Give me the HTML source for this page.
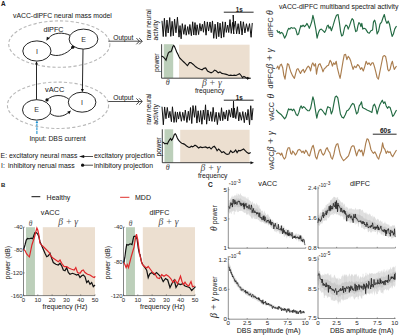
<!DOCTYPE html>
<html><head><meta charset="utf-8"><style>
html,body{margin:0;padding:0;background:#fff;}
svg{display:block;}
text{stroke:#222;stroke-width:0.04px;}
</style></head><body>
<svg width="400" height="336" viewBox="0 0 400 336" font-family='"Liberation Sans", sans-serif' fill="#1a1a1a">
<rect width="400" height="336" fill="#fff"/>
<text x="0.9" y="6.0" font-size="6.4" text-anchor="start" font-weight="bold">A</text>
<text x="13" y="17.6" font-size="6.85" text-anchor="start" >vACC-dlPFC neural mass model</text>
<ellipse cx="59.3" cy="44.1" rx="50.6" ry="23.2" fill="none" stroke="#b8b8b8" stroke-width="1.1" stroke-dasharray="3.2,2.1"/>
<ellipse cx="58" cy="105.3" rx="50.6" ry="23.2" fill="none" stroke="#b8b8b8" stroke-width="1.1" stroke-dasharray="3.2,2.1"/>
<ellipse cx="36.9" cy="51.0" rx="14.1" ry="10.1" fill="#fff" stroke="#1a1a1a" stroke-width="0.95"/>
<text x="36.9" y="53.5" font-size="7" text-anchor="middle" fill="#333">I</text>
<ellipse cx="83.5" cy="39.1" rx="14.4" ry="10.0" fill="#fff" stroke="#1a1a1a" stroke-width="0.95"/>
<text x="83.5" y="41.6" font-size="7" text-anchor="middle" fill="#333">E</text>
<ellipse cx="36.7" cy="109.9" rx="14.2" ry="10.2" fill="#fff" stroke="#1a1a1a" stroke-width="0.95"/>
<text x="36.7" y="112.4" font-size="7" text-anchor="middle" fill="#333">E</text>
<ellipse cx="82.1" cy="102.2" rx="13.8" ry="10.0" fill="#fff" stroke="#1a1a1a" stroke-width="0.95"/>
<text x="82.1" y="104.7" font-size="7" text-anchor="middle" fill="#333">I</text>
<text x="43.5" y="31.6" font-size="7.2" text-anchor="start" >dlPFC</text>
<text x="45" y="92" font-size="7.4" text-anchor="start" >vACC</text>
<path d="M70,35.3 C63,32 53,32.2 48.3,38.5" stroke="#1a1a1a" stroke-width="0.95" fill="none"/>
<polygon points="46.40,40.80 46.83,36.66 49.77,38.36" fill="#111"/>
<path d="M50.5,54.2 C57,57.2 66,55 72.8,47.2" stroke="#1a1a1a" stroke-width="0.95" fill="none"/>
<circle cx="72.8" cy="47.2" r="1.6" fill="#111"/>
<path d="M68.6,99 C63,94.5 53,94 47.2,99.8" stroke="#1a1a1a" stroke-width="0.95" fill="none"/>
<circle cx="47.0" cy="99.9" r="1.6" fill="#111"/>
<path d="M50.2,113.5 C55,117.5 64,117.5 69.5,111.5" stroke="#1a1a1a" stroke-width="0.95" fill="none"/>
<polygon points="71.00,110.60 69.27,114.14 67.21,111.69" fill="#111"/>
<line x1="83" y1="49.1" x2="82.4" y2="90" stroke="#1a1a1a" stroke-width="0.95" fill="none"/>
<polygon points="82.40,92.30 80.90,88.90 83.90,88.90" fill="#111"/>
<line x1="36.5" y1="99.7" x2="36.5" y2="64" stroke="#1a1a1a" stroke-width="0.95" fill="none"/>
<polygon points="36.50,61.20 38.00,64.60 35.00,64.60" fill="#111"/>
<line x1="36.9" y1="134" x2="36.9" y2="122.5" stroke="#2092d2" stroke-width="1.1" stroke-dasharray="3,0.7"/>
<polygon points="36.90,120.20 38.20,123.00 35.60,123.00" fill="#2092d2"/>
<text x="29.4" y="140.7" font-size="6.85" text-anchor="start" >Input: DBS current</text>
<line x1="108.3" y1="41.2" x2="142" y2="41.2" stroke="#222" stroke-width="0.8"/>
<path d="M136.4,38.1 L139.4,41.2 L136.4,44.300000000000004 M139.2,38.1 L142.3,41.2 L139.2,44.300000000000004" stroke="#222" stroke-width="0.85" fill="none"/>
<text x="113.2" y="39.7" font-size="6.7" text-anchor="start" >Output</text>
<line x1="108.3" y1="101.5" x2="142" y2="101.5" stroke="#222" stroke-width="0.8"/>
<path d="M136.4,98.4 L139.4,101.5 L136.4,104.6 M139.2,98.4 L142.3,101.5 L139.2,104.6" stroke="#222" stroke-width="0.85" fill="none"/>
<text x="113.2" y="99.6" font-size="6.7" text-anchor="start" >Output</text>
<text x="0.6" y="158.1" font-size="6.85" text-anchor="start" >E: excitatory neural mass</text>
<text x="1" y="167.5" font-size="6.85">I:<tspan x="8.1">inhibitory nerual mass</tspan></text>
<line x1="83" y1="156.5" x2="93" y2="156.5" stroke="#222" stroke-width="0.8"/>
<polygon points="79.00,156.50 84.20,154.90 84.20,158.10" fill="#111"/>
<line x1="82.4" y1="165.2" x2="93" y2="165.2" stroke="#222" stroke-width="0.8"/>
<circle cx="82.6" cy="165.2" r="1.6" fill="#111"/>
<text x="94" y="158.1" font-size="6.85" text-anchor="start" >excitatory projection</text>
<text x="94" y="167.5" font-size="6.85" text-anchor="start" >inhibitory projection</text>
<text transform="translate(151.2,40.5) rotate(-90)" font-size="6.7" text-anchor="start" >raw neural</text>
<text transform="translate(158.4,40.5) rotate(-90)" font-size="6.7" text-anchor="start" >activity</text>
<polyline points="162.00,20.83 163.26,36.59 164.38,18.27 165.88,36.54 166.97,20.08 168.17,32.96 169.74,17.57 170.77,36.39 172.13,21.30 173.30,35.78 174.57,19.11 175.97,32.79 177.43,17.22 179.01,37.13 180.04,25.59 181.12,38.80 182.30,23.64 183.84,34.35 185.17,24.73 186.21,35.22 187.71,26.57 188.85,34.35 189.87,24.47 191.36,35.67 192.68,21.79 193.77,35.02 195.00,22.56 196.06,35.18 197.12,24.77 198.61,34.57 199.87,23.47 201.01,31.11 202.38,24.22 203.46,32.24 204.55,21.20 206.05,35.20 207.34,21.92 208.60,31.05 210.02,21.97 211.22,32.58 212.48,20.93 213.72,38.30 215.12,24.18 216.44,38.65 217.75,22.19 218.79,36.73 220.06,23.11 221.32,38.08 222.64,21.75 223.74,37.19 225.32,21.95 226.34,32.42 227.66,25.06 228.72,32.53 229.99,19.56 231.28,33.44 232.54,22.36 233.81,33.95 233.20,15.00 233.60,30.60 235.35,21.06 236.61,33.77 238.15,23.66 239.29,34.04 240.71,21.25 242.06,34.98 243.35,21.80 244.92,32.93 246.44,23.72 247.97,31.50 249.52,23.63 251.10,37.29 252.27,22.98" fill="none" stroke="#111" stroke-width="1.0" stroke-linejoin="miter" stroke-miterlimit="4"/>
<line x1="223.8" y1="12.2" x2="253.6" y2="12.2" stroke="#111" stroke-width="0.9"/>
<text x="239.2" y="12.2" font-size="6.3" text-anchor="middle" font-weight="bold">1s</text>
<rect x="163.79999999999998" y="44.2" width="9.399999999999995" height="33.8" fill="#bccfba"/>
<rect x="179.0" y="44.7" width="70.6" height="33.3" fill="#ecdfd0"/>
<polyline points="161.6,44.2 161.6,78.2 251,78.2" fill="none" stroke="#111" stroke-width="0.8"/>
<polygon points="250.50,78.20 247.00,79.70 247.00,76.70" fill="#111"/>
<text transform="translate(158.5,72.1) rotate(-90)" font-size="6.85" text-anchor="start" >power</text>
<text x="167.6" y="84.8" font-size="8" text-anchor="middle" font-family="Liberation Serif" font-style="italic" fill="#444">θ</text>
<text x="211.8" y="85.6" font-size="9.6" text-anchor="middle" font-family="Liberation Serif" font-style="italic" fill="#555">β + γ</text>
<text x="195" y="93.0" font-size="6.7" text-anchor="start" >frequency</text>
<text transform="translate(151.2,124.7) rotate(-90)" font-size="6.7" text-anchor="start" >raw neural</text>
<text transform="translate(158.4,124.7) rotate(-90)" font-size="6.7" text-anchor="start" >activity</text>
<polyline points="162.00,106.69 163.34,124.80 164.62,106.96 165.97,118.75 167.27,107.43 168.75,117.80 169.93,111.36 171.42,121.70 172.44,106.79 174.02,122.44 175.39,111.78 176.40,122.22 177.44,112.15 178.58,119.07 179.86,111.72 181.37,121.25 182.75,112.30 184.15,120.56 185.31,110.06 186.91,122.46 188.34,111.27 189.47,120.29 190.52,107.56 191.76,123.54 192.99,105.57 194.50,117.32 195.62,105.72 196.90,123.05 198.14,110.79 199.52,122.11 200.68,110.55 201.88,124.25 203.34,110.09 204.48,119.59 205.52,104.81 206.63,124.17 207.90,109.97 209.33,120.91 210.72,111.75 211.97,121.37 213.14,107.40 214.62,121.63 216.15,112.21 217.38,124.56 218.77,112.57 220.36,120.68 221.52,107.74 222.72,120.59 223.76,111.81 225.11,119.13 226.47,110.30 227.74,120.84 229.03,109.76 230.55,117.11 231.64,108.26 233.14,117.91 233.50,101.00 233.90,117.40 234.25,108.02 235.81,118.63 237.38,106.72 238.75,120.96 239.81,112.31 241.39,120.24 242.81,111.59 244.30,122.65 245.48,112.43 246.91,120.05 248.05,109.42 249.56,124.76 250.73,105.74 251.85,120.09 253.01,108.22" fill="none" stroke="#111" stroke-width="1.0" stroke-linejoin="miter" stroke-miterlimit="4"/>
<line x1="223.8" y1="100.2" x2="253.6" y2="100.2" stroke="#111" stroke-width="0.9"/>
<text x="239.2" y="100.2" font-size="6.3" text-anchor="middle" font-weight="bold">1s</text>
<rect x="164.5" y="129.3" width="8.699999999999978" height="33.19999999999999" fill="#bccfba"/>
<rect x="180.2" y="129.8" width="69.4" height="32.69999999999999" fill="#ecdfd0"/>
<polyline points="162.3,129.3 162.3,162.7 251,162.7" fill="none" stroke="#111" stroke-width="0.8"/>
<polygon points="254.00,162.70 250.50,164.20 250.50,161.20" fill="#111"/>
<text transform="translate(160.9,156.6) rotate(-90)" font-size="7.1" text-anchor="start" >power</text>
<text x="167.6" y="170.2" font-size="8" text-anchor="middle" font-family="Liberation Serif" font-style="italic" fill="#444">θ</text>
<text x="210.5" y="171.4" font-size="9.6" text-anchor="middle" font-family="Liberation Serif" font-style="italic" fill="#555">β + γ</text>
<text x="198" y="177.6" font-size="6.7" text-anchor="start" >frequency</text>
<polyline points="161.40,56.10 163.00,56.70 164.80,58.50 166.00,60.20 167.10,56.70 168.30,53.10 169.50,51.90 171.00,51.70 171.90,49.50 172.90,46.50 173.70,45.40 174.50,46.50 175.50,48.90 176.70,51.90 177.90,54.30 179.00,56.70 180.20,58.50 181.40,59.60 182.60,60.80 183.80,62.00 185.00,63.20 186.20,64.40 187.40,65.60 188.30,64.40 189.50,62.60 191.00,62.60 192.10,63.60 193.30,64.40 194.50,65.60 195.70,66.80 196.90,67.60 198.10,68.30 200.40,69.30 202.10,69.80 203.90,68.40 205.70,68.00 207.50,71.00 209.30,71.90 211.10,72.80 212.90,71.90 214.60,70.10 216.40,71.00 218.20,72.80 220.00,71.90 221.80,73.40 223.60,73.70 225.40,74.10 227.10,74.60 228.90,75.50 230.70,75.10 232.50,75.50 234.30,75.10 236.10,75.50 237.90,74.60 239.60,73.70 241.10,75.50 242.50,77.60 243.90,76.40 245.40,77.30 246.80,78.20 248.20,78.70" fill="none" stroke="#111" stroke-width="1.15"/>
<polyline points="162.50,142.10 163.70,142.70 164.90,143.90 166.10,143.30 167.30,143.90 168.50,141.50 169.70,139.70 170.60,138.50 171.60,140.30 172.50,139.10 173.50,136.70 174.40,134.30 175.30,133.70 176.10,134.90 177.00,137.30 178.20,139.70 179.40,141.20 180.60,142.40 181.80,143.30 183.00,143.60 184.20,144.10 185.40,145.00 186.60,146.00 187.80,146.80 189.00,147.40 190.10,147.20 191.30,146.20 192.50,146.80 193.70,146.20 195.00,145.10 196.80,146.30 198.60,148.10 200.40,146.90 202.10,147.60 203.90,147.20 205.70,146.90 207.50,148.10 209.30,147.20 211.10,149.00 212.90,146.90 214.30,146.30 215.70,148.10 217.10,150.80 218.60,149.00 220.00,150.40 221.80,152.60 223.60,151.70 225.40,153.50 227.10,154.40 228.90,154.00 230.70,150.80 232.50,152.60 234.30,151.70 235.70,150.00 237.10,152.60 238.60,150.40 240.00,150.80 241.80,149.90 243.60,149.00 245.40,150.80 247.10,152.60 248.90,153.50 250.70,152.60" fill="none" stroke="#111" stroke-width="1.15"/>
<text x="278.9" y="9.2" font-size="6.85" text-anchor="start" >vACC-dlPFC multiband spectral activity</text>
<text transform="translate(273.3,37.2) rotate(-90)" font-size="7.1" text-anchor="start" fill="#333">dlPFC <tspan dx='0.6' font-family='Liberation Serif' font-style='italic' font-size='9.8'>θ</tspan></text>
<text transform="translate(273.09999999999997,88.4) rotate(-90)" font-size="7.1" text-anchor="start" fill="#333">dlPFC<tspan font-family='Liberation Serif' font-style='italic' font-size='9.8'>β + γ</tspan></text>
<text transform="translate(273.59999999999997,120.7) rotate(-90)" font-size="7.1" text-anchor="start" fill="#333">vACC <tspan dx='1.6' font-family='Liberation Serif' font-style='italic' font-size='9.8'>θ</tspan></text>
<text transform="translate(273.5,170) rotate(-90)" font-size="7.1" text-anchor="start" fill="#333">vACC<tspan font-family='Liberation Serif' font-style='italic' font-size='9.8'>β + γ</tspan></text>
<polyline points="276.80,29.90 278.10,32.40 279.40,31.60 280.10,33.70 281.40,32.40 282.70,33.20 284.60,38.10 286.20,35.30 287.50,30.70 288.70,28.30 289.80,29.10 291.10,27.50 292.70,28.30 294.40,27.80 295.70,29.10 297.30,34.80 298.60,34.00 299.60,29.90 300.90,25.50 301.80,26.70 303.10,25.10 304.40,26.70 305.70,25.50 307.00,23.40 308.30,25.90 309.30,28.30 310.60,25.10 311.90,21.00 312.90,15.30 313.90,19.40 314.80,24.20 315.80,29.10 317.10,38.10 318.40,33.20 319.70,29.90 321.30,29.10 323.00,30.70 324.60,32.40 325.90,29.90 327.20,25.90 328.20,25.10 329.10,28.30 330.10,26.70 331.40,30.70 333.00,25.90 334.90,19.40 336.50,15.30 338.10,14.50 339.40,22.60 340.60,31.60 341.70,36.00 343.00,34.80 344.60,27.50 345.90,25.10 347.20,25.90 348.20,29.10 349.50,25.90 350.80,21.80 352.10,18.60 353.40,20.20 354.40,25.90 355.70,31.60 357.00,30.70 357.90,25.90 358.90,22.60 359.90,23.40 360.90,26.70 361.80,23.40 362.80,29.10 364.10,28.30 365.70,29.10 367.70,32.40 369.30,33.20 370.90,30.70 372.60,29.90 373.50,21.80 374.70,20.20 375.80,24.20 377.10,34.00 378.70,30.70 380.00,24.20 381.70,21.80 383.00,17.80 384.30,14.50 385.60,20.20 386.90,23.40 388.20,21.00 389.50,24.20 390.80,30.70 392.10,36.40 393.40,34.00 394.70,29.10 396.50,26.00" fill="none" stroke="#226a42" stroke-width="1.15" stroke-linejoin="round"/>
<polyline points="276.50,68.60 277.80,66.10 278.90,69.40 280.10,65.30 281.40,64.20 282.70,67.70 283.80,75.10 285.00,79.10 286.20,71.00 287.50,63.70 288.70,64.50 289.80,68.60 291.10,72.60 292.70,75.90 294.40,78.30 295.70,73.40 296.80,69.40 297.90,68.60 299.20,71.00 300.50,73.40 301.70,71.00 303.30,69.40 304.40,72.60 305.70,70.20 307.00,67.70 308.30,66.10 309.60,67.70 310.60,71.00 311.90,64.50 312.90,62.90 314.20,66.10 315.50,63.70 316.50,74.20 317.40,68.60 318.70,64.50 320.00,63.70 321.70,67.70 323.00,71.80 324.30,68.60 325.60,67.70 326.90,66.10 328.50,65.30 330.10,60.40 331.30,62.10 332.40,66.10 333.60,62.90 334.90,64.50 336.20,61.30 337.30,67.70 338.90,74.20 340.10,78.30 341.40,71.00 343.00,61.30 344.30,54.70 345.60,54.40 346.90,59.60 348.20,56.40 349.50,58.00 350.80,61.30 351.90,65.30 353.10,69.40 354.40,66.10 356.00,67.70 357.60,64.50 359.20,66.10 360.50,69.40 361.80,67.70 363.30,71.00 364.90,66.10 366.10,61.30 367.70,64.50 369.00,62.90 370.60,65.30 371.90,62.90 373.20,62.90 374.50,66.90 375.80,71.80 377.10,77.50 378.40,79.10 379.70,72.60 381.30,64.50 383.00,56.40 384.30,55.60 385.60,56.40 386.90,62.90 387.80,69.40 388.80,71.00 390.10,69.40 391.40,63.70 392.40,61.30 393.40,66.10 394.30,69.40 396.50,66.00" fill="none" stroke="#aa7d4e" stroke-width="1.15" stroke-linejoin="round"/>
<polyline points="276.20,109.90 277.80,112.00 279.40,113.20 281.40,114.80 283.30,117.20 284.60,118.90 285.90,117.20 287.20,113.20 288.50,108.80 289.80,109.90 291.10,109.10 292.40,110.70 293.70,109.10 295.00,111.60 296.30,114.80 297.60,115.60 298.90,112.40 300.20,107.50 301.20,105.90 302.20,108.30 303.50,106.70 304.80,107.50 306.10,109.10 307.70,110.70 309.30,110.70 310.60,108.30 311.90,101.80 312.90,96.90 313.90,100.20 314.80,105.90 315.80,112.40 316.80,118.10 318.10,112.40 319.40,109.90 321.00,109.10 322.60,110.70 324.30,113.20 325.60,114.80 326.90,109.10 327.80,106.70 328.80,107.20 330.00,107.50 331.30,114.00 332.60,110.70 333.90,103.40 335.20,96.90 336.50,96.10 337.80,97.80 339.10,105.90 340.40,114.00 342.00,117.20 343.60,118.10 345.30,114.80 346.90,110.70 348.50,109.90 350.10,107.50 351.40,105.10 352.70,103.40 354.00,104.20 355.30,109.10 356.60,114.00 357.90,112.40 359.20,105.90 360.50,104.20 361.50,101.80 362.50,107.50 363.80,108.30 365.40,109.10 367.00,109.90 368.70,110.70 370.30,111.60 371.90,112.40 373.20,105.90 374.50,104.20 375.80,107.50 377.10,114.00 378.40,109.10 379.70,105.10 381.00,102.60 382.30,100.20 383.60,103.40 384.90,101.80 386.20,105.90 387.50,108.30 388.80,106.70 390.10,107.50 391.40,111.60 392.70,116.40 394.00,114.80 396.50,110.00" fill="none" stroke="#226a42" stroke-width="1.15" stroke-linejoin="round"/>
<polyline points="276.20,153.90 277.80,153.00 279.40,153.40 280.70,155.10 281.70,153.00 283.00,156.70 284.30,159.10 285.60,157.50 286.90,151.00 288.20,147.70 289.50,147.70 290.80,153.40 291.80,154.20 292.70,151.00 294.00,152.60 295.30,155.10 296.60,153.40 297.90,150.20 299.20,149.40 300.50,150.20 301.80,152.60 303.10,151.00 304.40,153.40 305.70,150.20 307.00,151.80 308.30,155.10 309.60,155.90 310.90,151.00 312.20,146.90 313.20,145.30 314.20,149.40 315.50,156.70 316.80,159.10 318.10,154.20 319.40,150.20 320.70,149.40 322.00,153.40 323.30,155.10 324.60,153.40 325.90,149.40 327.20,147.70 328.50,151.00 329.80,152.60 331.10,157.50 332.40,159.10 333.90,154.20 335.20,147.70 336.50,144.20 337.80,143.70 339.10,149.40 340.40,155.10 342.00,158.30 343.60,160.70 345.30,159.10 346.90,157.50 348.50,155.90 350.10,151.00 351.40,146.90 352.70,145.80 354.00,146.10 355.30,151.00 356.60,155.90 357.90,151.80 359.20,149.40 360.50,151.80 361.80,150.20 363.10,155.90 364.40,151.00 365.70,143.70 367.00,138.80 368.30,139.60 369.60,143.70 370.90,149.40 372.20,151.80 373.50,153.40 374.80,151.80 376.10,154.20 377.40,157.50 378.70,159.10 380.00,154.20 381.30,151.00 382.60,142.90 383.60,147.70 384.90,149.40 386.20,153.40 387.50,151.00 388.80,152.60 390.10,151.80 391.40,155.10 392.70,156.70 394.00,154.20 396.50,150.00" fill="none" stroke="#aa7d4e" stroke-width="1.15" stroke-linejoin="round"/>
<line x1="372.8" y1="134.2" x2="396.6" y2="134.2" stroke="#111" stroke-width="0.9"/>
<text x="385.4" y="132.6" font-size="6.6" text-anchor="middle" font-weight="bold">60s</text>
<text x="1.1" y="187.1" font-size="6.0" text-anchor="start" font-weight="bold">B</text>
<line x1="31.5" y1="196.7" x2="40.3" y2="196.7" stroke="#111" stroke-width="1"/>
<text x="46.6" y="199.8" font-size="7.0" text-anchor="start" >Healthy</text>
<line x1="120.1" y1="197.3" x2="129.4" y2="197.3" stroke="#e0312c" stroke-width="1"/>
<text x="135" y="200.2" font-size="7.0" text-anchor="start" >MDD</text>
<rect x="26.00" y="227.2" width="8.94" height="68.40000000000003" fill="#bccfba"/>
<rect x="42.80" y="227.2" width="52.20" height="68.40000000000003" fill="#ecdfd0"/>
<polyline points="23.5,227.2 23.5,295.6 95.0,295.6" fill="none" stroke="#333" stroke-width="0.6"/>
<line x1="23.50" y1="295.6" x2="23.50" y2="294.40000000000003" stroke="#333" stroke-width="0.5"/>
<text x="23.5" y="302.2" font-size="6.0" text-anchor="middle" fill="#333">0</text>
<line x1="37.80" y1="295.6" x2="37.80" y2="294.40000000000003" stroke="#333" stroke-width="0.5"/>
<text x="37.8" y="302.2" font-size="6.0" text-anchor="middle" fill="#333">10</text>
<line x1="52.10" y1="295.6" x2="52.10" y2="294.40000000000003" stroke="#333" stroke-width="0.5"/>
<text x="52.1" y="302.2" font-size="6.0" text-anchor="middle" fill="#333">20</text>
<line x1="66.40" y1="295.6" x2="66.40" y2="294.40000000000003" stroke="#333" stroke-width="0.5"/>
<text x="66.4" y="302.2" font-size="6.0" text-anchor="middle" fill="#333">30</text>
<line x1="80.70" y1="295.6" x2="80.70" y2="294.40000000000003" stroke="#333" stroke-width="0.5"/>
<text x="80.7" y="302.2" font-size="6.0" text-anchor="middle" fill="#333">40</text>
<line x1="95.00" y1="295.6" x2="95.00" y2="294.40000000000003" stroke="#333" stroke-width="0.5"/>
<text x="95.0" y="302.2" font-size="6.0" text-anchor="middle" fill="#333">50</text>
<line x1="23.5" y1="227.20" x2="24.7" y2="227.20" stroke="#333" stroke-width="0.5"/>
<text x="22.7" y="229.3" font-size="6.0" text-anchor="end" fill="#333">-40</text>
<line x1="23.5" y1="250.06" x2="24.7" y2="250.06" stroke="#333" stroke-width="0.5"/>
<text x="22.7" y="252.16" font-size="6.0" text-anchor="end" fill="#333">-80</text>
<line x1="23.5" y1="272.92" x2="24.7" y2="272.92" stroke="#333" stroke-width="0.5"/>
<text x="22.7" y="275.02" font-size="6.0" text-anchor="end" fill="#333">-120</text>
<line x1="23.5" y1="295.78" x2="24.7" y2="295.78" stroke="#333" stroke-width="0.5"/>
<text x="22.7" y="297.88" font-size="6.0" text-anchor="end" fill="#333">-160</text>
<text x="40.8" y="215.3" font-size="7.2" text-anchor="start" >vACC</text>
<text x="30.65" y="226.2" font-size="7.4" text-anchor="middle" font-family="Liberation Serif" font-style="italic" fill="#555">θ</text>
<text x="68.2" y="224.8" font-size="9.6" text-anchor="middle" font-family="Liberation Serif" font-style="italic" fill="#555">β + γ</text>
<text x="42.5" y="309.3" font-size="6.85" text-anchor="start" >frequency (Hz)</text>
<text transform="translate(10.3,279.4) rotate(-90)" font-size="6.85" text-anchor="start" >power (dB)</text>
<polyline points="23.50,250.00 25.00,245.00 26.25,240.00 27.50,238.50 29.40,238.75 31.25,238.10 32.75,238.75 34.00,235.00 35.00,232.50 36.25,232.50 37.50,233.75 38.75,236.25 40.00,241.70 42.50,247.50 45.00,253.30 46.70,256.70 48.30,255.80 50.00,253.30 51.70,258.30 53.30,262.50 55.80,264.20 58.30,265.00 60.00,263.30 61.70,265.80 63.30,270.00 65.00,270.80 66.70,267.50 68.30,272.50 70.00,274.20 72.50,273.30 75.00,274.20 76.70,275.00 78.30,274.20 80.00,277.50 81.70,275.80 83.30,275.00 85.00,276.70 86.70,282.50 88.30,280.80 90.00,284.20 91.70,282.50 93.30,286.70 95.00,285.00" fill="none" stroke="#111" stroke-width="1.2"/>
<polyline points="23.50,249.40 25.00,250.60 26.50,253.75 28.10,255.60 29.40,256.90 30.60,251.25 31.90,245.00 33.10,241.25 34.40,237.50 35.60,232.50 36.90,228.10 37.75,230.00 38.75,234.40 40.00,243.30 42.50,245.80 44.20,247.50 46.70,250.00 49.20,252.50 50.80,255.80 53.30,258.30 55.80,260.00 58.30,261.70 60.00,260.00 61.70,263.30 64.20,266.70 66.70,266.70 69.20,268.30 71.70,269.20 74.20,270.00 75.80,267.50 77.50,272.50 80.00,273.30 81.70,270.80 83.30,270.00 85.00,272.50 87.50,274.20 90.00,275.00 92.50,276.70 94.20,277.50 95.30,276.30" fill="none" stroke="#e0262a" stroke-width="1.2"/>
<rect x="126.00" y="227.2" width="8.94" height="68.40000000000003" fill="#bccfba"/>
<rect x="142.81" y="227.2" width="52.19" height="68.40000000000003" fill="#ecdfd0"/>
<polyline points="123.5,227.2 123.5,295.6 195.0,295.6" fill="none" stroke="#333" stroke-width="0.6"/>
<line x1="123.50" y1="295.6" x2="123.50" y2="294.40000000000003" stroke="#333" stroke-width="0.5"/>
<text x="123.5" y="302.2" font-size="6.0" text-anchor="middle" fill="#333">0</text>
<line x1="137.80" y1="295.6" x2="137.80" y2="294.40000000000003" stroke="#333" stroke-width="0.5"/>
<text x="137.8" y="302.2" font-size="6.0" text-anchor="middle" fill="#333">10</text>
<line x1="152.10" y1="295.6" x2="152.10" y2="294.40000000000003" stroke="#333" stroke-width="0.5"/>
<text x="152.1" y="302.2" font-size="6.0" text-anchor="middle" fill="#333">20</text>
<line x1="166.40" y1="295.6" x2="166.40" y2="294.40000000000003" stroke="#333" stroke-width="0.5"/>
<text x="166.4" y="302.2" font-size="6.0" text-anchor="middle" fill="#333">30</text>
<line x1="180.70" y1="295.6" x2="180.70" y2="294.40000000000003" stroke="#333" stroke-width="0.5"/>
<text x="180.7" y="302.2" font-size="6.0" text-anchor="middle" fill="#333">40</text>
<line x1="195.00" y1="295.6" x2="195.00" y2="294.40000000000003" stroke="#333" stroke-width="0.5"/>
<text x="195.0" y="302.2" font-size="6.0" text-anchor="middle" fill="#333">50</text>
<line x1="123.5" y1="227.20" x2="124.7" y2="227.20" stroke="#333" stroke-width="0.5"/>
<text x="122.7" y="229.3" font-size="6.0" text-anchor="end" fill="#333">-40</text>
<line x1="123.5" y1="261.40" x2="124.7" y2="261.40" stroke="#333" stroke-width="0.5"/>
<text x="122.7" y="263.5" font-size="6.0" text-anchor="end" fill="#333">-80</text>
<line x1="123.5" y1="295.60" x2="124.7" y2="295.60" stroke="#333" stroke-width="0.5"/>
<text x="122.7" y="297.7" font-size="6.0" text-anchor="end" fill="#333">-120</text>
<text x="149.4" y="215.3" font-size="7.2" text-anchor="start" >dlPFC</text>
<text x="130.65" y="226.2" font-size="7.4" text-anchor="middle" font-family="Liberation Serif" font-style="italic" fill="#555">θ</text>
<text x="168.5" y="224.8" font-size="9.6" text-anchor="middle" font-family="Liberation Serif" font-style="italic" fill="#555">β + γ</text>
<text x="140" y="309.3" font-size="6.85" text-anchor="start" >frequency (Hz)</text>
<text transform="translate(110.3,279.4) rotate(-90)" font-size="6.85" text-anchor="start" >power (dB)</text>
<polyline points="123.80,263.20 124.90,257.20 125.80,249.80 126.70,244.60 128.20,245.00 130.10,243.80 132.00,244.60 133.10,239.30 133.80,236.40 135.00,236.10 136.00,236.40 137.10,239.30 138.30,248.30 139.50,254.20 140.00,254.50 141.50,262.00 143.00,265.00 145.20,268.00 146.70,270.20 148.20,277.70 149.70,274.00 152.00,272.50 154.20,274.70 156.50,272.50 158.70,274.70 161.00,277.00 163.20,281.50 165.50,278.50 167.70,280.00 170.00,287.50 172.20,283.00 174.20,280.00 176.00,287.50 178.20,283.70 180.50,284.50 182.70,283.70 185.00,286.00 187.20,286.70 189.50,287.50 191.70,290.50 194.00,288.20 195.50,286.70" fill="none" stroke="#111" stroke-width="1.2"/>
<polyline points="123.80,262.40 124.90,264.60 126.10,267.60 127.30,264.60 128.50,267.60 129.60,263.20 131.10,257.20 132.60,252.00 134.10,246.80 135.30,239.30 136.50,234.10 137.70,239.30 138.90,248.30 140.00,256.00 142.20,264.20 144.50,266.50 146.70,268.00 148.20,266.50 150.50,269.50 152.70,272.50 155.00,274.00 157.20,277.70 159.50,278.50 161.70,274.70 164.00,276.20 166.20,274.70 168.50,276.20 170.70,278.50 173.00,282.20 175.20,280.00 177.50,283.70 179.00,280.00 180.50,276.20 182.00,281.50 183.50,284.50 185.00,282.20 186.50,284.50 188.70,286.00 191.00,281.50 192.50,286.70 194.70,286.00" fill="none" stroke="#e0262a" stroke-width="1.2"/>
<text x="207.9" y="187.3" font-size="6.5" text-anchor="start" font-weight="bold">C</text>
<polygon points="228.60,200.29 229.30,200.00 230.00,200.58 230.70,198.31 231.40,197.13 232.10,195.31 232.80,197.29 233.50,196.58 234.20,195.44 234.90,195.51 235.60,195.43 236.30,195.48 237.00,192.57 237.70,196.26 238.40,193.53 239.10,194.26 239.80,195.58 240.50,192.71 241.20,195.22 241.90,195.50 242.60,196.19 243.30,197.06 244.00,195.58 244.70,197.55 245.40,196.14 246.10,199.10 246.80,197.39 247.50,199.47 248.20,199.05 248.90,200.46 249.60,200.06 250.30,201.31 251.00,201.36 251.70,203.49 252.40,201.01 253.10,202.85 253.80,204.52 254.50,203.02 255.20,203.94 255.90,205.85 256.60,202.44 257.30,204.43 258.00,205.14 258.70,207.23 259.40,208.85 260.10,208.20 260.80,209.71 261.50,210.94 262.20,210.70 262.90,210.73 263.60,214.20 264.30,210.18 265.00,212.46 265.70,213.52 266.40,215.61 267.10,215.04 267.80,213.56 268.50,215.08 269.20,216.80 269.90,216.85 270.60,218.66 271.30,219.46 272.00,220.35 272.70,219.57 273.40,220.71 274.10,222.80 274.80,222.50 275.50,222.40 276.20,222.78 276.90,222.14 277.60,221.94 278.30,226.79 279.00,225.61 279.70,226.18 280.40,225.54 281.10,225.98 281.80,226.21 282.50,224.87 283.20,226.98 283.90,227.51 284.60,227.79 285.30,229.75 286.00,228.58 286.70,229.16 287.40,230.01 288.10,229.36 288.80,229.81 289.50,230.89 290.20,230.76 290.90,233.00 291.60,231.89 292.30,232.29 293.00,232.95 293.70,233.20 294.40,236.31 295.10,233.71 295.80,234.04 296.50,233.21 297.20,233.96 297.90,234.77 298.60,233.38 299.30,235.25 300.00,233.84 300.70,236.33 301.40,237.26 302.10,236.31 302.80,237.27 303.50,237.39 304.20,239.43 304.90,238.17 304.90,243.28 304.20,241.88 303.50,243.49 302.80,243.54 302.10,242.56 301.40,240.12 300.70,241.65 300.00,242.15 299.30,240.13 298.60,241.89 297.90,239.73 297.20,238.41 296.50,240.76 295.80,239.20 295.10,236.98 294.40,237.11 293.70,238.92 293.00,238.64 292.30,238.53 291.60,237.06 290.90,238.20 290.20,236.16 289.50,238.15 288.80,236.72 288.10,236.37 287.40,236.74 286.70,238.78 286.00,236.05 285.30,235.41 284.60,236.73 283.90,236.69 283.20,233.73 282.50,233.97 281.80,234.56 281.10,233.61 280.40,233.78 279.70,233.95 279.00,232.88 278.30,231.07 277.60,231.34 276.90,230.40 276.20,230.82 275.50,230.20 274.80,230.82 274.10,229.12 273.40,229.33 272.70,229.00 272.00,228.44 271.30,228.09 270.60,226.76 269.90,224.95 269.20,224.53 268.50,226.11 267.80,222.99 267.10,224.81 266.40,223.73 265.70,223.92 265.00,222.30 264.30,223.12 263.60,222.99 262.90,221.38 262.20,222.04 261.50,222.46 260.80,221.57 260.10,222.03 259.40,220.80 258.70,220.10 258.00,220.20 257.30,218.41 256.60,218.97 255.90,219.36 255.20,218.82 254.50,219.24 253.80,217.17 253.10,215.91 252.40,219.07 251.70,218.83 251.00,217.01 250.30,216.29 249.60,214.44 248.90,212.92 248.20,214.67 247.50,214.31 246.80,215.15 246.10,213.70 245.40,212.52 244.70,212.74 244.00,212.89 243.30,211.77 242.60,211.38 241.90,211.12 241.20,210.59 240.50,210.51 239.80,211.03 239.10,211.04 238.40,212.15 237.70,211.56 237.00,212.58 236.30,209.15 235.60,212.36 234.90,211.23 234.20,211.56 233.50,210.26 232.80,211.77 232.10,210.14 231.40,211.06 230.70,211.99 230.00,213.02 229.30,213.86 228.60,212.03" fill="#e0e0e0"/>
<line x1="228.60" y1="207.50" x2="228.60" y2="211.63" stroke="#d2d2d2" stroke-width="0.6"/>
<line x1="229.67" y1="205.85" x2="229.67" y2="212.27" stroke="#d2d2d2" stroke-width="0.6"/>
<line x1="230.71" y1="198.86" x2="230.71" y2="204.24" stroke="#d2d2d2" stroke-width="0.6"/>
<line x1="231.39" y1="203.70" x2="231.39" y2="213.70" stroke="#d2d2d2" stroke-width="0.6"/>
<line x1="232.18" y1="203.16" x2="232.18" y2="211.61" stroke="#d2d2d2" stroke-width="0.6"/>
<line x1="233.03" y1="202.59" x2="233.03" y2="210.76" stroke="#d2d2d2" stroke-width="0.6"/>
<line x1="234.21" y1="202.20" x2="234.21" y2="214.51" stroke="#d2d2d2" stroke-width="0.6"/>
<line x1="240.82" y1="203.63" x2="240.82" y2="211.05" stroke="#d2d2d2" stroke-width="0.6"/>
<line x1="246.99" y1="206.37" x2="246.99" y2="213.92" stroke="#d2d2d2" stroke-width="0.6"/>
<line x1="248.00" y1="197.22" x2="248.00" y2="207.07" stroke="#d2d2d2" stroke-width="0.6"/>
<line x1="249.34" y1="207.94" x2="249.34" y2="215.59" stroke="#d2d2d2" stroke-width="0.6"/>
<line x1="251.64" y1="209.74" x2="251.64" y2="217.76" stroke="#d2d2d2" stroke-width="0.6"/>
<line x1="252.98" y1="211.08" x2="252.98" y2="218.25" stroke="#d2d2d2" stroke-width="0.6"/>
<line x1="254.05" y1="211.99" x2="254.05" y2="217.21" stroke="#d2d2d2" stroke-width="0.6"/>
<line x1="256.45" y1="213.57" x2="256.45" y2="219.08" stroke="#d2d2d2" stroke-width="0.6"/>
<line x1="257.54" y1="206.60" x2="257.54" y2="214.31" stroke="#d2d2d2" stroke-width="0.6"/>
<line x1="259.05" y1="205.35" x2="259.05" y2="215.33" stroke="#d2d2d2" stroke-width="0.6"/>
<line x1="260.01" y1="209.28" x2="260.01" y2="215.96" stroke="#d2d2d2" stroke-width="0.6"/>
<line x1="262.43" y1="217.55" x2="262.43" y2="221.85" stroke="#d2d2d2" stroke-width="0.6"/>
<line x1="264.91" y1="219.17" x2="264.91" y2="224.04" stroke="#d2d2d2" stroke-width="0.6"/>
<line x1="266.92" y1="215.07" x2="266.92" y2="220.24" stroke="#d2d2d2" stroke-width="0.6"/>
<line x1="268.48" y1="221.13" x2="268.48" y2="225.04" stroke="#d2d2d2" stroke-width="0.6"/>
<line x1="270.82" y1="223.09" x2="270.82" y2="226.74" stroke="#d2d2d2" stroke-width="0.6"/>
<line x1="274.48" y1="226.05" x2="274.48" y2="231.33" stroke="#d2d2d2" stroke-width="0.6"/>
<line x1="275.78" y1="226.85" x2="275.78" y2="231.83" stroke="#d2d2d2" stroke-width="0.6"/>
<line x1="276.81" y1="227.47" x2="276.81" y2="232.48" stroke="#d2d2d2" stroke-width="0.6"/>
<line x1="277.44" y1="227.87" x2="277.44" y2="231.00" stroke="#d2d2d2" stroke-width="0.6"/>
<line x1="278.76" y1="224.75" x2="278.76" y2="228.76" stroke="#d2d2d2" stroke-width="0.6"/>
<line x1="279.97" y1="229.58" x2="279.97" y2="232.38" stroke="#d2d2d2" stroke-width="0.6"/>
<line x1="283.89" y1="226.32" x2="283.89" y2="231.80" stroke="#d2d2d2" stroke-width="0.6"/>
<line x1="285.98" y1="229.07" x2="285.98" y2="232.88" stroke="#d2d2d2" stroke-width="0.6"/>
<line x1="289.32" y1="230.64" x2="289.32" y2="234.52" stroke="#d2d2d2" stroke-width="0.6"/>
<line x1="292.08" y1="231.79" x2="292.08" y2="235.92" stroke="#d2d2d2" stroke-width="0.6"/>
<line x1="295.06" y1="233.63" x2="295.06" y2="237.06" stroke="#d2d2d2" stroke-width="0.6"/>
<line x1="298.56" y1="235.37" x2="298.56" y2="238.43" stroke="#d2d2d2" stroke-width="0.6"/>
<line x1="301.39" y1="236.95" x2="301.39" y2="239.58" stroke="#d2d2d2" stroke-width="0.6"/>
<polygon points="228.60,203.89 229.30,203.21 230.00,202.96 230.70,201.28 231.40,200.41 232.10,199.26 232.80,200.02 233.50,199.42 234.20,198.82 234.90,198.85 235.60,198.81 236.30,198.84 237.00,197.46 237.70,199.42 238.40,198.17 239.10,198.65 239.80,199.43 240.50,198.11 241.20,199.49 241.90,199.75 242.60,200.21 243.30,200.76 244.00,200.13 244.70,201.23 245.40,200.71 246.10,202.43 246.80,201.81 247.50,203.10 248.20,203.12 248.90,204.06 249.60,204.09 250.30,204.94 251.00,205.23 251.70,206.64 252.40,205.75 253.10,207.03 253.80,208.18 254.50,207.65 255.20,208.34 255.90,209.53 256.60,208.06 257.30,209.29 258.00,209.88 258.70,211.16 259.40,212.21 260.10,212.11 260.80,213.10 261.50,213.94 262.20,214.05 262.90,214.30 263.60,216.26 264.30,214.48 265.00,215.85 265.70,216.56 266.40,217.79 267.10,217.69 267.80,217.12 268.50,218.12 269.20,219.27 269.90,219.59 270.60,220.79 271.30,221.48 272.00,222.21 272.70,222.10 273.40,222.95 274.10,224.28 274.80,224.37 275.50,224.54 276.20,224.94 276.90,224.84 277.60,224.95 278.30,227.61 279.00,227.26 279.70,227.79 280.40,227.70 281.10,228.13 281.80,228.43 282.50,227.95 283.20,229.20 283.90,229.66 284.60,229.98 285.30,231.14 286.00,230.74 286.70,231.20 287.40,231.80 288.10,231.65 288.80,232.04 289.50,232.75 290.20,232.86 290.90,234.16 291.60,233.78 292.30,234.16 293.00,234.68 293.70,234.91 294.40,236.58 295.10,235.39 295.80,235.67 296.50,235.39 297.20,235.91 297.90,236.46 298.60,235.92 299.30,237.00 300.00,236.43 300.70,237.81 301.40,238.42 302.10,238.09 302.80,238.72 303.50,238.94 304.20,240.12 304.90,239.65 304.90,242.20 304.20,241.34 303.50,241.99 302.80,241.86 302.10,241.21 301.40,239.85 300.70,240.47 300.00,240.58 299.30,239.43 298.60,240.17 297.90,238.94 297.20,238.14 296.50,239.16 295.80,238.25 295.10,237.03 294.40,236.98 293.70,237.77 293.00,237.52 292.30,237.29 291.60,236.37 290.90,236.76 290.20,235.56 289.50,236.38 288.80,235.49 288.10,235.15 287.40,235.16 286.70,236.02 286.00,234.47 285.30,233.97 284.60,234.45 283.90,234.24 283.20,232.58 282.50,232.51 281.80,232.61 281.10,231.94 280.40,231.82 279.70,231.67 279.00,230.90 278.30,229.76 277.60,229.66 276.90,228.97 276.20,228.96 275.50,228.43 274.80,228.53 274.10,227.44 273.40,227.26 272.70,226.81 272.00,226.25 271.30,225.79 270.60,224.84 269.90,223.64 269.20,223.13 268.50,223.63 267.80,221.84 267.10,222.57 266.40,221.85 265.70,221.76 265.00,220.76 264.30,220.95 263.60,220.65 262.90,219.62 262.20,219.72 261.50,219.70 260.80,219.03 260.10,219.02 259.40,218.18 258.70,217.60 258.00,217.41 257.30,216.28 256.60,216.32 255.90,216.28 255.20,215.79 254.50,215.76 253.80,214.50 253.10,213.55 252.40,214.78 251.70,214.31 251.00,213.06 250.30,212.43 249.60,211.28 248.90,210.29 248.20,210.93 247.50,210.52 246.80,210.70 246.10,209.73 245.40,208.90 244.70,208.82 244.00,208.79 243.30,208.11 242.60,207.81 241.90,207.56 241.20,207.17 240.50,207.01 239.80,207.15 239.10,207.04 238.40,207.48 237.70,207.07 237.00,207.47 236.30,205.67 235.60,207.28 234.90,206.71 234.20,206.88 233.50,206.26 232.80,207.26 232.10,206.68 231.40,207.38 230.70,208.12 230.00,209.18 229.30,210.14 228.60,209.76" fill="#c6c6c6" fill-opacity="0.8"/>
<polyline points="228.60,206.46 228.98,206.65 229.36,208.18 229.74,208.59 230.12,205.40 230.50,205.53 230.88,202.56 231.26,204.91 231.64,204.97 232.02,203.17 232.40,207.08 232.78,202.59 233.16,199.10 233.54,202.75 233.92,203.54 234.30,204.31 234.68,199.85 235.06,200.50 235.44,204.07 235.82,201.87 236.20,201.73 236.58,202.12 236.96,204.67 237.34,202.82 237.72,201.55 238.10,200.77 238.48,201.05 238.86,202.18 239.24,201.30 239.62,201.10 240.00,204.50 240.38,204.45 240.76,202.72 241.14,206.01 241.52,204.58 241.90,203.31 242.28,204.98 242.66,204.72 243.04,203.49 243.42,206.54 243.80,202.79 244.18,209.24 244.56,204.36 244.94,206.48 245.32,205.95 245.70,203.56 246.08,203.16 246.46,205.79 246.84,207.76 247.22,206.03 247.60,206.71 247.98,208.32 248.36,208.69 248.74,207.05 249.12,204.79 249.50,208.32 249.88,208.27 250.26,209.54 250.64,208.14 251.02,207.29 251.40,204.86 251.78,207.63 252.16,212.75 252.54,210.53 252.92,211.16 253.30,208.39 253.68,210.81 254.06,213.01 254.44,212.13 254.82,210.69 255.20,211.48 255.58,212.91 255.96,212.35 256.34,212.59 256.72,214.30 257.10,212.22 257.48,213.84 257.86,213.34 258.24,212.72 258.62,214.81 259.00,216.83 259.38,215.12 259.76,212.70 260.14,217.84 260.52,217.16 260.90,217.35 261.28,218.41 261.66,217.38 262.04,220.14 262.42,218.84 262.80,218.22 263.18,216.25 263.56,219.66 263.94,215.62 264.32,221.21 264.70,219.14 265.08,216.75 265.46,219.54 265.84,219.46 266.22,222.29 266.60,221.76 266.98,222.27 267.36,220.08 267.74,220.99 268.12,220.39 268.50,219.89 268.88,222.06 269.26,223.39 269.64,221.39 270.02,222.53 270.40,219.63 270.78,224.64 271.16,221.78 271.54,225.19 271.92,224.14 272.30,222.08 272.68,222.48 273.06,223.10 273.44,224.41 273.82,228.99 274.20,225.27 274.58,226.30 274.96,224.14 275.34,223.17 275.72,226.08 276.10,226.68 276.48,227.34 276.86,229.00 277.24,228.43 277.62,228.52 278.00,228.20 278.38,224.18 278.76,229.33 279.14,229.51 279.52,229.00 279.90,229.50 280.28,229.13 280.66,228.48 281.04,230.37 281.42,225.62 281.80,230.40 282.18,229.32 282.56,233.83 282.94,232.94 283.32,228.19 283.70,232.46 284.08,231.35 284.46,230.42 284.84,233.20 285.22,233.55 285.60,231.93 285.98,234.34 286.36,232.64 286.74,232.69 287.12,234.14 287.50,234.80 287.88,230.15 288.26,236.02 288.64,233.27 289.02,234.92 289.40,235.59 289.78,232.50 290.16,235.03 290.54,234.48 290.92,235.25 291.30,236.11 291.68,235.67 292.06,232.31 292.44,238.65 292.82,237.99 293.20,236.81 293.58,236.77 293.96,237.87 294.34,235.99 294.72,238.02 295.10,235.71 295.48,238.17 295.86,238.45 296.24,237.48 296.62,237.37 297.00,237.98 297.38,236.75 297.76,236.96 298.14,238.16 298.52,238.77 298.90,237.12 299.28,238.28 299.66,239.02 300.04,235.66 300.42,238.39 300.80,235.60 301.18,239.41 301.56,241.07 301.94,240.94 302.32,239.59 302.70,241.84 303.08,239.86 303.46,239.33 303.84,239.38 304.22,240.54 304.60,243.40 304.98,245.15" fill="none" stroke="#1a1a1a" stroke-width="0.7"/>
<polyline points="228.3,187.2 228.3,248.2 305.8,248.2" fill="none" stroke="#444" stroke-width="0.6"/>
<line x1="228.30" y1="248.2" x2="228.30" y2="247.0" stroke="#444" stroke-width="0.5"/>
<line x1="247.20" y1="248.2" x2="247.20" y2="247.0" stroke="#444" stroke-width="0.5"/>
<line x1="267.40" y1="248.2" x2="267.40" y2="247.0" stroke="#444" stroke-width="0.5"/>
<line x1="287.70" y1="248.2" x2="287.70" y2="247.0" stroke="#444" stroke-width="0.5"/>
<line x1="305.80" y1="248.2" x2="305.80" y2="247.0" stroke="#444" stroke-width="0.5"/>
<line x1="228.3" y1="189.7" x2="229.5" y2="189.7" stroke="#444" stroke-width="0.5"/>
<text x="227.0" y="191.79999999999998" font-size="6.2" text-anchor="end" fill="#333">5</text>
<line x1="228.3" y1="218.9" x2="229.5" y2="218.9" stroke="#444" stroke-width="0.5"/>
<text x="227.0" y="221.0" font-size="6.2" text-anchor="end" fill="#333">3</text>
<line x1="228.3" y1="248.2" x2="229.5" y2="248.2" stroke="#444" stroke-width="0.5"/>
<text x="227.0" y="250.29999999999998" font-size="6.2" text-anchor="end" fill="#333">1</text>
<text x="228.70000000000002" y="185.4" font-size="5.0" fill="#333"><tspan font-size="3.6">×</tspan>10<tspan dy="-2.3" font-size="4.8">-3</tspan></text>
<text x="258.3" y="185.8" font-size="7.2" text-anchor="start" >vACC</text>
<text transform="translate(216.8,218.1) rotate(-90)" font-size="7.0" text-anchor="middle" ><tspan font-family='Liberation Serif' font-style='italic' font-size='9.5'>θ</tspan> power</text>
<polygon points="317.80,214.57 318.50,215.33 319.20,215.59 319.90,212.59 320.60,212.51 321.30,212.43 322.00,212.65 322.70,209.46 323.40,209.93 324.10,208.10 324.80,207.53 325.50,207.97 326.20,205.70 326.90,204.14 327.60,203.74 328.30,204.07 329.00,201.90 329.70,203.15 330.40,200.12 331.10,199.64 331.80,199.60 332.50,198.29 333.20,197.66 333.90,196.53 334.60,197.04 335.30,197.92 336.00,196.78 336.70,198.66 337.40,197.40 338.10,199.77 338.80,198.86 339.50,200.00 340.20,200.79 340.90,201.92 341.60,202.52 342.30,202.55 343.00,202.50 343.70,205.19 344.40,203.30 345.10,205.73 345.80,207.90 346.50,206.31 347.20,208.22 347.90,206.69 348.60,210.08 349.30,208.99 350.00,207.68 350.70,209.00 351.40,207.97 352.10,209.24 352.80,209.33 353.50,209.31 354.20,209.65 354.90,209.22 355.60,207.46 356.30,210.31 357.00,208.83 357.70,209.86 358.40,209.20 359.10,209.74 359.80,208.88 360.50,208.90 361.20,210.72 361.90,209.67 362.60,209.65 363.30,211.58 364.00,213.24 364.70,212.39 365.40,212.15 366.10,214.74 366.80,212.02 367.50,214.33 368.20,214.37 368.90,214.79 369.60,213.21 370.30,214.33 371.00,216.10 371.70,216.61 372.40,214.96 373.10,219.13 373.80,217.04 374.50,216.74 375.20,218.23 375.90,218.84 376.60,220.50 377.30,218.45 378.00,219.56 378.70,219.14 379.40,221.98 380.10,220.39 380.80,220.58 381.50,221.96 382.20,221.02 382.90,223.97 383.60,223.33 384.30,223.22 385.00,221.13 385.70,223.71 386.40,223.53 387.10,224.61 387.80,224.28 388.50,224.87 389.20,224.61 389.90,226.98 390.60,225.92 391.30,227.02 392.00,225.44 392.70,225.20 393.40,225.82 394.10,224.71 394.80,225.76 395.50,227.50 395.50,238.29 394.80,236.87 394.10,237.57 393.40,237.25 392.70,237.14 392.00,239.05 391.30,238.22 390.60,234.60 389.90,237.27 389.20,236.40 388.50,235.66 387.80,236.59 387.10,236.43 386.40,236.08 385.70,235.96 385.00,232.90 384.30,235.76 383.60,236.03 382.90,233.57 382.20,235.39 381.50,233.83 380.80,234.28 380.10,230.97 379.40,232.70 378.70,231.52 378.00,232.52 377.30,232.50 376.60,230.18 375.90,231.95 375.20,231.97 374.50,231.37 373.80,232.00 373.10,230.37 372.40,231.38 371.70,232.21 371.00,232.73 370.30,232.13 369.60,230.41 368.90,231.87 368.20,232.57 367.50,228.86 366.80,229.01 366.10,228.44 365.40,228.70 364.70,229.64 364.00,229.37 363.30,228.57 362.60,227.85 361.90,226.89 361.20,227.60 360.50,223.98 359.80,222.12 359.10,224.18 358.40,224.69 357.70,222.54 357.00,224.36 356.30,223.38 355.60,221.89 354.90,222.42 354.20,223.52 353.50,221.85 352.80,222.33 352.10,221.57 351.40,222.83 350.70,223.51 350.00,221.01 349.30,219.90 348.60,221.08 347.90,221.39 347.20,221.30 346.50,221.66 345.80,220.43 345.10,219.12 344.40,217.91 343.70,219.71 343.00,216.32 342.30,217.12 341.60,215.47 340.90,216.94 340.20,215.66 339.50,215.20 338.80,214.60 338.10,215.71 337.40,213.75 336.70,214.38 336.00,214.53 335.30,211.99 334.60,213.96 333.90,212.96 333.20,212.97 332.50,214.30 331.80,214.79 331.10,214.50 330.40,215.60 329.70,215.45 329.00,218.28 328.30,217.98 327.60,216.93 326.90,220.03 326.20,220.88 325.50,219.97 324.80,220.89 324.10,220.14 323.40,220.80 322.70,222.55 322.00,224.17 321.30,223.04 320.60,223.55 319.90,225.44 319.20,225.81 318.50,225.36 317.80,224.75" fill="#e0e0e0"/>
<line x1="322.35" y1="209.61" x2="322.35" y2="216.87" stroke="#d2d2d2" stroke-width="0.6"/>
<line x1="323.68" y1="209.70" x2="323.68" y2="215.38" stroke="#d2d2d2" stroke-width="0.6"/>
<line x1="324.56" y1="214.47" x2="324.56" y2="220.46" stroke="#d2d2d2" stroke-width="0.6"/>
<line x1="326.05" y1="205.12" x2="326.05" y2="212.98" stroke="#d2d2d2" stroke-width="0.6"/>
<line x1="329.36" y1="209.71" x2="329.36" y2="216.83" stroke="#d2d2d2" stroke-width="0.6"/>
<line x1="330.70" y1="200.45" x2="330.70" y2="208.32" stroke="#d2d2d2" stroke-width="0.6"/>
<line x1="331.71" y1="200.08" x2="331.71" y2="207.50" stroke="#d2d2d2" stroke-width="0.6"/>
<line x1="333.29" y1="206.46" x2="333.29" y2="215.11" stroke="#d2d2d2" stroke-width="0.6"/>
<line x1="334.28" y1="197.09" x2="334.28" y2="205.86" stroke="#d2d2d2" stroke-width="0.6"/>
<line x1="334.95" y1="205.50" x2="334.95" y2="214.15" stroke="#d2d2d2" stroke-width="0.6"/>
<line x1="336.32" y1="205.22" x2="336.32" y2="213.03" stroke="#d2d2d2" stroke-width="0.6"/>
<line x1="337.64" y1="197.06" x2="337.64" y2="205.92" stroke="#d2d2d2" stroke-width="0.6"/>
<line x1="339.80" y1="208.00" x2="339.80" y2="215.31" stroke="#d2d2d2" stroke-width="0.6"/>
<line x1="343.94" y1="212.14" x2="343.94" y2="219.39" stroke="#d2d2d2" stroke-width="0.6"/>
<line x1="345.02" y1="213.22" x2="345.02" y2="219.66" stroke="#d2d2d2" stroke-width="0.6"/>
<line x1="347.08" y1="215.06" x2="347.08" y2="220.10" stroke="#d2d2d2" stroke-width="0.6"/>
<line x1="348.96" y1="216.34" x2="348.96" y2="221.39" stroke="#d2d2d2" stroke-width="0.6"/>
<line x1="350.06" y1="216.77" x2="350.06" y2="222.88" stroke="#d2d2d2" stroke-width="0.6"/>
<line x1="355.30" y1="217.78" x2="355.30" y2="224.48" stroke="#d2d2d2" stroke-width="0.6"/>
<line x1="356.34" y1="218.41" x2="356.34" y2="222.09" stroke="#d2d2d2" stroke-width="0.6"/>
<line x1="358.41" y1="219.77" x2="358.41" y2="226.62" stroke="#d2d2d2" stroke-width="0.6"/>
<line x1="359.64" y1="209.00" x2="359.64" y2="220.70" stroke="#d2d2d2" stroke-width="0.6"/>
<line x1="361.60" y1="222.20" x2="361.60" y2="227.83" stroke="#d2d2d2" stroke-width="0.6"/>
<line x1="364.32" y1="224.21" x2="364.32" y2="228.61" stroke="#d2d2d2" stroke-width="0.6"/>
<line x1="365.85" y1="213.47" x2="365.85" y2="225.12" stroke="#d2d2d2" stroke-width="0.6"/>
<line x1="368.20" y1="225.74" x2="368.20" y2="231.77" stroke="#d2d2d2" stroke-width="0.6"/>
<line x1="373.79" y1="216.46" x2="373.79" y2="227.18" stroke="#d2d2d2" stroke-width="0.6"/>
<line x1="377.37" y1="228.02" x2="377.37" y2="234.45" stroke="#d2d2d2" stroke-width="0.6"/>
<line x1="379.84" y1="228.67" x2="379.84" y2="233.05" stroke="#d2d2d2" stroke-width="0.6"/>
<line x1="381.39" y1="229.24" x2="381.39" y2="234.65" stroke="#d2d2d2" stroke-width="0.6"/>
<line x1="388.65" y1="231.88" x2="388.65" y2="237.82" stroke="#d2d2d2" stroke-width="0.6"/>
<line x1="389.46" y1="232.28" x2="389.46" y2="235.79" stroke="#d2d2d2" stroke-width="0.6"/>
<line x1="391.46" y1="226.70" x2="391.46" y2="233.28" stroke="#d2d2d2" stroke-width="0.6"/>
<line x1="393.02" y1="233.87" x2="393.02" y2="237.88" stroke="#d2d2d2" stroke-width="0.6"/>
<line x1="393.87" y1="226.01" x2="393.87" y2="234.12" stroke="#d2d2d2" stroke-width="0.6"/>
<polygon points="317.80,218.39 318.50,217.75 319.20,217.44 319.90,215.94 320.60,215.91 321.30,215.42 322.00,215.02 322.70,212.93 323.40,212.80 324.10,211.53 324.80,210.87 325.50,210.73 326.20,209.26 326.90,208.15 327.60,207.61 328.30,207.43 329.00,205.99 329.70,206.25 330.40,204.37 331.10,203.77 331.80,203.52 332.50,202.64 333.20,202.09 333.90,201.30 334.60,201.36 335.30,201.62 336.00,200.92 336.70,202.04 337.40,201.59 338.10,203.03 338.80,202.93 339.50,203.85 340.20,204.60 340.90,205.51 341.60,206.16 342.30,206.53 343.00,206.85 343.70,208.55 344.40,207.95 345.10,209.52 345.80,210.95 346.50,210.49 347.20,211.68 347.90,211.16 348.60,213.09 349.30,212.76 350.00,212.21 350.70,212.98 351.40,212.58 352.10,213.32 352.80,213.39 353.50,213.40 354.20,213.60 354.90,213.40 355.60,212.71 356.30,214.35 357.00,213.82 357.70,214.55 358.40,214.48 359.10,215.01 359.80,214.85 360.50,215.13 361.20,216.31 361.90,216.05 362.60,216.29 363.30,217.52 364.00,218.60 364.70,218.44 365.40,218.57 366.10,219.96 366.80,218.70 367.50,219.94 368.20,220.06 368.90,220.35 369.60,219.66 370.30,220.31 371.00,221.29 371.70,221.64 372.40,220.90 373.10,223.08 373.80,222.11 374.50,222.04 375.20,222.87 375.90,223.25 376.60,224.17 377.30,223.23 378.00,223.87 378.70,223.76 379.40,225.27 380.10,224.57 380.80,224.77 381.50,225.63 382.20,225.33 382.90,226.99 383.60,226.84 384.30,226.96 385.00,226.02 385.70,227.40 386.40,227.39 387.10,228.01 387.80,227.93 388.50,228.33 389.20,228.38 389.90,229.74 390.60,229.38 391.30,230.11 392.00,229.49 392.70,229.49 393.40,229.90 394.10,229.45 394.80,230.08 395.50,231.05 395.50,236.45 394.80,235.63 394.10,235.88 393.40,235.62 392.70,235.46 392.00,236.30 391.30,235.71 390.60,233.72 389.90,234.88 389.20,234.28 388.50,233.73 387.80,234.09 387.10,233.92 386.40,233.67 385.70,233.52 385.00,231.91 384.30,233.23 383.60,233.19 382.90,231.78 382.20,232.52 381.50,231.57 380.80,231.62 380.10,229.86 379.40,230.63 378.70,229.95 378.00,230.36 377.30,230.25 376.60,229.01 375.90,229.81 375.20,229.74 374.50,229.36 373.80,229.59 373.10,228.69 372.40,229.11 371.70,229.43 371.00,229.60 370.30,229.21 369.60,228.26 368.90,228.90 368.20,229.15 367.50,227.20 366.80,227.19 366.10,226.81 365.40,226.85 364.70,227.06 364.00,226.67 363.30,226.01 362.60,225.39 361.90,224.66 361.20,224.75 360.50,222.67 359.80,221.48 359.10,222.23 358.40,222.22 357.70,220.89 357.00,221.58 356.30,220.88 355.60,219.93 354.90,220.01 354.20,220.53 353.50,219.67 352.80,219.89 352.10,219.49 351.40,220.01 350.70,220.24 350.00,218.88 349.30,218.22 348.60,218.59 347.90,218.50 347.20,218.22 346.50,218.16 345.80,217.21 345.10,216.21 344.40,215.25 343.70,215.81 343.00,213.76 342.30,213.81 341.60,212.64 340.90,213.02 340.20,212.03 339.50,211.45 338.80,210.80 338.10,211.01 337.40,209.77 336.70,209.90 336.00,209.79 335.30,208.65 334.60,209.82 333.90,209.51 333.20,209.75 332.50,210.64 331.80,211.11 331.10,211.20 330.40,212.11 329.70,212.40 329.00,214.18 328.30,214.39 327.60,214.20 326.90,216.09 326.20,216.85 325.50,216.74 324.80,217.56 324.10,217.54 323.40,218.24 322.70,219.48 322.00,220.78 321.30,220.73 320.60,221.42 319.90,222.37 319.20,222.56 318.50,222.76 317.80,223.48" fill="#c6c6c6" fill-opacity="0.8"/>
<polyline points="317.80,222.83 318.18,221.15 318.56,218.45 318.94,220.53 319.32,219.71 319.70,219.79 320.08,219.55 320.46,221.47 320.84,220.38 321.22,220.24 321.60,217.60 321.98,216.81 322.36,215.47 322.74,216.04 323.12,212.25 323.50,217.84 323.88,215.39 324.26,214.93 324.64,215.61 325.02,213.51 325.40,213.97 325.78,214.34 326.16,210.73 326.54,214.93 326.92,212.36 327.30,212.65 327.68,209.99 328.06,210.20 328.44,210.38 328.82,209.55 329.20,206.20 329.58,210.17 329.96,211.10 330.34,205.35 330.72,210.37 331.10,208.30 331.48,208.93 331.86,206.01 332.24,207.61 332.62,209.18 333.00,206.55 333.38,203.28 333.76,205.58 334.14,205.22 334.52,206.86 334.90,205.83 335.28,201.97 335.66,208.59 336.04,203.58 336.42,200.49 336.80,208.93 337.18,204.82 337.56,211.92 337.94,202.91 338.32,206.24 338.70,205.13 339.08,206.12 339.46,206.51 339.84,207.78 340.22,207.91 340.60,209.83 340.98,211.92 341.36,207.95 341.74,208.75 342.12,211.40 342.50,211.44 342.88,212.67 343.26,210.45 343.64,210.09 344.02,212.17 344.40,210.36 344.78,213.63 345.16,211.20 345.54,214.52 345.92,213.52 346.30,214.25 346.68,221.16 347.06,217.21 347.44,215.93 347.82,216.15 348.20,214.77 348.58,217.85 348.96,217.24 349.34,215.37 349.72,214.37 350.10,216.81 350.48,216.68 350.86,218.25 351.24,215.73 351.62,216.05 352.00,217.98 352.38,220.34 352.76,218.80 353.14,222.78 353.52,216.27 353.90,214.25 354.28,217.66 354.66,216.59 355.04,217.99 355.42,214.10 355.80,217.97 356.18,218.48 356.56,217.80 356.94,219.53 357.32,219.19 357.70,219.59 358.08,221.36 358.46,221.64 358.84,221.80 359.22,220.94 359.60,220.90 359.98,221.78 360.36,221.72 360.74,220.55 361.12,222.41 361.50,223.43 361.88,221.87 362.26,221.20 362.64,223.80 363.02,222.23 363.40,221.48 363.78,223.50 364.16,222.08 364.54,224.86 364.92,223.97 365.30,225.07 365.68,224.74 366.06,226.77 366.44,225.17 366.82,222.27 367.20,224.84 367.58,223.98 367.96,226.95 368.34,227.97 368.72,226.88 369.10,226.90 369.48,226.88 369.86,227.16 370.24,225.79 370.62,227.65 371.00,226.08 371.38,225.00 371.76,226.78 372.14,225.51 372.52,222.82 372.90,224.55 373.28,228.82 373.66,227.52 374.04,228.04 374.42,226.71 374.80,228.12 375.18,229.78 375.56,226.73 375.94,228.67 376.32,228.29 376.70,226.69 377.08,228.23 377.46,225.20 377.84,227.01 378.22,229.91 378.60,226.84 378.98,230.09 379.36,229.45 379.74,229.04 380.12,227.70 380.50,227.80 380.88,225.95 381.26,229.18 381.64,229.23 382.02,230.37 382.40,231.21 382.78,230.25 383.16,229.70 383.54,231.73 383.92,230.54 384.30,230.70 384.68,229.25 385.06,232.43 385.44,230.13 385.82,235.93 386.20,230.04 386.58,233.85 386.96,231.54 387.34,230.54 387.72,229.58 388.10,230.11 388.48,228.64 388.86,231.69 389.24,233.57 389.62,233.32 390.00,233.03 390.38,236.30 390.76,229.95 391.14,232.30 391.52,232.58 391.90,232.11 392.28,230.89 392.66,232.90 393.04,232.39 393.42,235.26 393.80,233.23 394.18,233.90 394.56,228.71 394.94,235.72 395.32,236.92" fill="none" stroke="#1a1a1a" stroke-width="0.7"/>
<polyline points="318,186.6 318,248 395.5,248" fill="none" stroke="#444" stroke-width="0.6"/>
<line x1="318.00" y1="248" x2="318.00" y2="246.8" stroke="#444" stroke-width="0.5"/>
<line x1="336.60" y1="248" x2="336.60" y2="246.8" stroke="#444" stroke-width="0.5"/>
<line x1="357.00" y1="248" x2="357.00" y2="246.8" stroke="#444" stroke-width="0.5"/>
<line x1="377.30" y1="248" x2="377.30" y2="246.8" stroke="#444" stroke-width="0.5"/>
<line x1="395.50" y1="248" x2="395.50" y2="246.8" stroke="#444" stroke-width="0.5"/>
<line x1="318" y1="188.1" x2="319.2" y2="188.1" stroke="#444" stroke-width="0.5"/>
<text x="316.7" y="190.2" font-size="6.2" text-anchor="end" fill="#333">2.4</text>
<line x1="318" y1="218.2" x2="319.2" y2="218.2" stroke="#444" stroke-width="0.5"/>
<text x="316.7" y="220.29999999999998" font-size="6.2" text-anchor="end" fill="#333">1.6</text>
<line x1="318" y1="248" x2="319.2" y2="248" stroke="#444" stroke-width="0.5"/>
<text x="316.7" y="250.1" font-size="6.2" text-anchor="end" fill="#333">0.8</text>
<text x="318.4" y="187.0" font-size="5.0" fill="#333"><tspan font-size="3.6">×</tspan>10<tspan dy="-2.3" font-size="4.8">-3</tspan></text>
<text x="350" y="185.8" font-size="7.2" text-anchor="start" >dlPFC</text>
<polygon points="228.70,261.80 229.40,263.34 230.10,265.97 230.80,267.28 231.50,268.83 232.20,271.79 232.90,273.73 233.60,275.85 234.30,275.35 235.00,277.98 235.70,277.76 236.40,279.61 237.10,280.95 237.80,281.94 238.50,282.99 239.20,283.87 239.90,285.26 240.60,286.11 241.30,286.53 242.00,287.67 242.70,287.56 243.40,287.67 244.10,289.48 244.80,288.89 245.50,290.01 246.20,290.40 246.90,290.43 247.60,291.31 248.30,291.04 249.00,291.83 249.70,291.22 250.40,292.54 251.10,292.52 251.80,292.80 252.50,293.92 253.20,294.23 253.90,294.87 254.60,294.72 255.30,294.84 256.00,295.90 256.70,298.08 257.40,296.78 258.10,297.62 258.80,298.23 259.50,298.28 260.20,298.21 260.90,300.05 261.60,299.94 262.30,300.39 263.00,300.07 263.70,301.78 264.40,300.89 265.10,300.72 265.80,301.26 266.50,301.67 267.20,301.76 267.90,303.28 268.60,303.18 269.30,302.94 270.00,302.68 270.70,303.90 271.40,304.21 272.10,304.18 272.80,304.71 273.50,305.08 274.20,305.25 274.90,305.85 275.60,306.32 276.30,307.10 277.00,306.08 277.70,306.51 278.40,307.82 279.10,307.48 279.80,306.42 280.50,309.29 281.20,308.04 281.90,308.17 282.60,308.25 283.30,307.55 284.00,307.59 284.70,308.92 285.40,308.35 286.10,308.99 286.80,309.37 287.50,308.70 288.20,309.24 288.90,309.75 289.60,309.29 290.30,310.29 291.00,309.43 291.70,310.10 292.40,310.30 293.10,310.56 293.80,309.86 294.50,310.79 295.20,310.79 295.90,310.56 296.60,310.85 297.30,310.52 298.00,311.07 298.70,311.77 299.40,310.76 300.10,311.09 300.80,310.45 301.50,310.54 302.20,312.17 302.90,312.67 303.60,311.64 304.30,311.58 304.30,313.95 303.60,312.98 302.90,313.47 302.20,313.89 301.50,313.54 300.80,313.44 300.10,312.78 299.40,313.79 298.70,313.33 298.00,313.01 297.30,312.91 296.60,312.35 295.90,313.32 295.20,312.79 294.50,312.48 293.80,310.97 293.10,311.78 292.40,311.99 291.70,311.75 291.00,311.32 290.30,311.16 289.60,312.25 288.90,312.00 288.20,311.95 287.50,311.89 286.80,310.75 286.10,311.29 285.40,311.52 284.70,310.74 284.00,310.73 283.30,310.77 282.60,310.73 281.90,310.39 281.20,310.43 280.50,310.24 279.80,309.35 279.10,309.35 278.40,309.70 277.70,309.58 277.00,309.21 276.30,309.24 275.60,308.31 274.90,308.45 274.20,308.20 273.50,307.25 272.80,307.62 272.10,308.34 271.40,307.39 270.70,306.75 270.00,306.96 269.30,306.78 268.60,305.53 267.90,305.05 267.20,305.55 266.50,305.87 265.80,305.79 265.10,305.16 264.40,303.91 263.70,303.28 263.00,304.32 262.30,303.12 261.60,304.02 260.90,303.23 260.20,302.49 259.50,301.75 258.80,301.85 258.10,301.59 257.40,301.20 256.70,300.45 256.00,299.47 255.30,299.92 254.60,299.50 253.90,298.71 253.20,298.65 252.50,298.89 251.80,297.85 251.10,296.99 250.40,296.16 249.70,296.39 249.00,295.51 248.30,296.31 247.60,296.31 246.90,294.94 246.20,295.22 245.50,294.81 244.80,293.31 244.10,292.81 243.40,292.89 242.70,291.69 242.00,291.84 241.30,291.60 240.60,291.07 239.90,289.75 239.20,289.63 238.50,287.38 237.80,287.20 237.10,286.95 236.40,284.89 235.70,284.02 235.00,283.66 234.30,283.07 233.60,281.33 232.90,279.40 232.20,277.81 231.50,276.18 230.80,273.76 230.10,272.00 229.40,269.42 228.70,267.77" fill="#e0e0e0"/>
<line x1="228.70" y1="264.60" x2="228.70" y2="267.33" stroke="#d2d2d2" stroke-width="0.6"/>
<line x1="230.23" y1="265.58" x2="230.23" y2="270.66" stroke="#d2d2d2" stroke-width="0.6"/>
<line x1="238.42" y1="282.05" x2="238.42" y2="285.52" stroke="#d2d2d2" stroke-width="0.6"/>
<line x1="239.44" y1="284.21" x2="239.44" y2="286.86" stroke="#d2d2d2" stroke-width="0.6"/>
<line x1="243.42" y1="290.51" x2="243.42" y2="292.36" stroke="#d2d2d2" stroke-width="0.6"/>
<line x1="246.73" y1="289.85" x2="246.73" y2="292.68" stroke="#d2d2d2" stroke-width="0.6"/>
<line x1="248.17" y1="291.32" x2="248.17" y2="293.62" stroke="#d2d2d2" stroke-width="0.6"/>
<line x1="249.63" y1="294.47" x2="249.63" y2="296.60" stroke="#d2d2d2" stroke-width="0.6"/>
<line x1="252.63" y1="295.96" x2="252.63" y2="298.18" stroke="#d2d2d2" stroke-width="0.6"/>
<line x1="254.04" y1="295.21" x2="254.04" y2="296.81" stroke="#d2d2d2" stroke-width="0.6"/>
<line x1="258.33" y1="297.76" x2="258.33" y2="299.50" stroke="#d2d2d2" stroke-width="0.6"/>
<line x1="261.32" y1="301.26" x2="261.32" y2="302.80" stroke="#d2d2d2" stroke-width="0.6"/>
<line x1="270.07" y1="305.28" x2="270.07" y2="306.90" stroke="#d2d2d2" stroke-width="0.6"/>
<line x1="271.99" y1="306.10" x2="271.99" y2="307.43" stroke="#d2d2d2" stroke-width="0.6"/>
<line x1="274.14" y1="306.91" x2="274.14" y2="307.97" stroke="#d2d2d2" stroke-width="0.6"/>
<line x1="275.58" y1="307.39" x2="275.58" y2="309.13" stroke="#d2d2d2" stroke-width="0.6"/>
<line x1="277.70" y1="306.96" x2="277.70" y2="308.07" stroke="#d2d2d2" stroke-width="0.6"/>
<line x1="281.82" y1="308.98" x2="281.82" y2="310.27" stroke="#d2d2d2" stroke-width="0.6"/>
<line x1="285.41" y1="309.88" x2="285.41" y2="310.88" stroke="#d2d2d2" stroke-width="0.6"/>
<line x1="286.28" y1="309.21" x2="286.28" y2="310.10" stroke="#d2d2d2" stroke-width="0.6"/>
<line x1="287.21" y1="309.20" x2="287.21" y2="310.24" stroke="#d2d2d2" stroke-width="0.6"/>
<line x1="287.90" y1="310.35" x2="287.90" y2="311.53" stroke="#d2d2d2" stroke-width="0.6"/>
<line x1="289.90" y1="309.46" x2="289.90" y2="310.66" stroke="#d2d2d2" stroke-width="0.6"/>
<line x1="292.98" y1="310.24" x2="292.98" y2="311.14" stroke="#d2d2d2" stroke-width="0.6"/>
<line x1="296.47" y1="310.52" x2="296.47" y2="311.63" stroke="#d2d2d2" stroke-width="0.6"/>
<line x1="297.23" y1="310.72" x2="297.23" y2="311.72" stroke="#d2d2d2" stroke-width="0.6"/>
<line x1="299.27" y1="310.66" x2="299.27" y2="311.95" stroke="#d2d2d2" stroke-width="0.6"/>
<line x1="300.35" y1="311.20" x2="300.35" y2="312.09" stroke="#d2d2d2" stroke-width="0.6"/>
<line x1="301.24" y1="312.21" x2="301.24" y2="313.58" stroke="#d2d2d2" stroke-width="0.6"/>
<line x1="304.40" y1="312.63" x2="304.40" y2="313.77" stroke="#d2d2d2" stroke-width="0.6"/>
<polygon points="228.70,263.20 229.40,265.87 230.10,268.13 230.80,269.74 231.50,271.22 232.20,273.40 232.90,275.07 233.60,276.83 234.30,277.28 235.00,279.20 235.70,279.62 236.40,281.08 237.10,282.27 237.80,283.28 238.50,284.31 239.20,285.21 239.90,286.37 240.60,287.18 241.30,287.67 242.00,288.54 242.70,288.77 243.40,289.08 244.10,290.22 244.80,290.15 245.50,290.94 246.20,291.37 246.90,291.61 247.60,292.28 248.30,292.38 249.00,292.99 249.70,292.86 250.40,293.69 251.10,293.86 251.80,294.17 252.50,294.91 253.20,295.27 253.90,295.80 254.60,295.94 255.30,296.21 256.00,296.95 256.70,298.25 257.40,297.84 258.10,298.48 258.80,299.02 259.50,299.28 260.20,299.47 260.90,300.56 261.60,300.66 262.30,301.04 263.00,301.04 263.70,302.05 264.40,301.77 265.10,301.85 265.80,302.28 266.50,302.66 267.20,302.87 267.90,303.80 268.60,303.91 269.30,303.94 270.00,303.96 270.70,304.72 271.40,305.03 272.10,305.17 272.80,305.59 273.50,305.89 274.20,306.09 274.90,306.51 275.60,306.86 276.30,307.37 277.00,306.97 277.70,307.29 278.40,308.02 279.10,307.93 279.80,307.48 280.50,308.99 281.20,308.44 281.90,308.59 282.60,308.71 283.30,308.45 284.00,308.56 284.70,309.31 285.40,309.11 286.10,309.52 286.80,309.78 287.50,309.49 288.20,309.82 288.90,310.13 289.60,309.95 290.30,310.50 291.00,310.13 291.70,310.52 292.40,310.67 293.10,310.86 293.80,310.56 294.50,311.08 295.20,311.14 295.90,311.07 296.60,311.25 297.30,311.12 298.00,311.44 298.70,311.83 299.40,311.36 300.10,311.57 300.80,311.30 301.50,311.39 302.20,312.25 302.90,312.55 303.60,312.08 304.30,312.10 304.30,313.28 303.60,312.75 302.90,312.95 302.20,313.12 301.50,312.89 300.80,312.79 300.10,312.42 299.40,312.88 298.70,312.61 298.00,312.41 297.30,312.32 296.60,312.00 295.90,312.44 295.20,312.14 294.50,311.93 293.80,311.12 293.10,311.47 292.40,311.52 291.70,311.35 291.00,311.07 290.30,310.94 289.60,311.43 288.90,311.25 288.20,311.17 287.50,311.09 286.80,310.46 286.10,310.67 285.40,310.70 284.70,310.22 284.00,310.13 283.30,310.06 282.60,309.95 281.90,309.69 281.20,309.64 280.50,309.46 279.80,308.94 279.10,308.86 278.40,308.96 277.70,308.82 277.00,308.54 276.30,308.44 275.60,307.86 274.90,307.81 274.20,307.57 273.50,306.97 272.80,307.04 272.10,307.25 271.40,306.62 270.70,306.15 270.00,306.10 269.30,305.86 268.60,305.09 267.90,304.68 267.20,304.77 266.50,304.76 265.80,304.55 265.10,304.07 264.40,303.27 263.70,302.80 263.00,303.17 262.30,302.41 261.60,302.70 260.90,302.15 260.20,301.61 259.50,301.01 258.80,300.83 258.10,300.47 257.40,300.05 256.70,299.44 256.00,298.73 255.30,298.75 254.60,298.32 253.90,297.72 253.20,297.48 252.50,297.40 251.80,296.70 251.10,296.09 250.40,295.51 249.70,295.45 249.00,294.83 248.30,295.01 247.60,294.78 246.90,293.87 246.20,293.77 245.50,293.34 244.80,292.36 244.10,291.88 243.40,291.69 242.70,290.83 242.00,290.62 241.30,290.21 240.60,289.66 239.90,288.61 239.20,288.09 238.50,286.51 237.80,285.91 237.10,285.27 236.40,283.72 235.70,282.75 235.00,282.04 234.30,281.14 233.60,279.56 232.90,277.90 232.20,276.41 231.50,274.89 230.80,272.98 230.10,271.15 229.40,268.91 228.70,266.19" fill="#c6c6c6" fill-opacity="0.8"/>
<polyline points="228.70,267.08 229.08,266.89 229.46,268.07 229.84,271.01 230.22,269.51 230.60,270.55 230.98,273.23 231.36,272.41 231.74,274.55 232.12,274.13 232.50,276.96 232.88,275.87 233.26,277.10 233.64,277.90 234.02,278.65 234.40,279.04 234.78,281.21 235.16,280.72 235.54,281.97 235.92,280.70 236.30,282.84 236.68,282.83 237.06,283.83 237.44,282.58 237.82,283.73 238.20,285.16 238.58,285.81 238.96,286.36 239.34,286.92 239.72,287.30 240.10,287.48 240.48,286.79 240.86,287.87 241.24,290.27 241.62,289.72 242.00,290.51 242.38,289.64 242.76,289.12 243.14,289.26 243.52,290.03 243.90,290.39 244.28,290.81 244.66,291.07 245.04,292.03 245.42,290.14 245.80,293.28 246.18,292.08 246.56,292.69 246.94,291.55 247.32,293.25 247.70,292.29 248.08,293.93 248.46,294.02 248.84,294.20 249.22,295.37 249.60,294.26 249.98,294.42 250.36,293.61 250.74,295.09 251.12,295.39 251.50,297.12 251.88,295.66 252.26,295.13 252.64,294.37 253.02,294.46 253.40,296.51 253.78,297.28 254.16,296.15 254.54,296.29 254.92,296.12 255.30,297.68 255.68,296.78 256.06,297.96 256.44,297.81 256.82,299.00 257.20,298.08 257.58,297.98 257.96,298.47 258.34,299.28 258.72,297.43 259.10,300.01 259.48,298.57 259.86,300.44 260.24,301.06 260.62,300.95 261.00,300.10 261.38,301.40 261.76,300.85 262.14,303.17 262.52,301.47 262.90,299.76 263.28,304.29 263.66,302.13 264.04,302.86 264.42,302.46 264.80,303.05 265.18,302.57 265.56,301.30 265.94,303.68 266.32,304.74 266.70,303.05 267.08,303.52 267.46,304.67 267.84,303.91 268.22,304.55 268.60,303.19 268.98,305.24 269.36,304.88 269.74,304.67 270.12,305.33 270.50,305.28 270.88,304.60 271.26,305.86 271.64,305.28 272.02,306.58 272.40,308.63 272.78,308.34 273.16,306.02 273.54,306.81 273.92,307.59 274.30,307.11 274.68,307.56 275.06,308.54 275.44,307.39 275.82,307.45 276.20,308.48 276.58,307.93 276.96,308.07 277.34,308.59 277.72,307.52 278.10,309.53 278.48,306.26 278.86,306.67 279.24,308.13 279.62,306.65 280.00,307.42 280.38,308.40 280.76,308.74 281.14,307.66 281.52,310.82 281.90,309.52 282.28,309.02 282.66,308.73 283.04,310.29 283.42,308.93 283.80,309.45 284.18,310.54 284.56,308.34 284.94,309.66 285.32,309.97 285.70,308.78 286.08,309.97 286.46,312.19 286.84,312.46 287.22,309.99 287.60,308.75 287.98,309.79 288.36,310.97 288.74,308.64 289.12,308.72 289.50,310.99 289.88,312.48 290.26,310.84 290.64,311.22 291.02,311.43 291.40,311.26 291.78,311.21 292.16,312.34 292.54,310.28 292.92,312.75 293.30,311.40 293.68,309.64 294.06,311.82 294.44,312.12 294.82,310.57 295.20,310.19 295.58,312.15 295.96,312.18 296.34,313.64 296.72,310.90 297.10,311.65 297.48,313.33 297.86,312.81 298.24,314.03 298.62,311.86 299.00,311.88 299.38,311.59 299.76,310.76 300.14,312.22 300.52,310.13 300.90,313.64 301.28,313.10 301.66,312.56 302.04,311.40 302.42,312.12 302.80,312.30 303.18,313.06 303.56,310.96 303.94,311.77 304.32,312.50 304.70,312.54" fill="none" stroke="#1a1a1a" stroke-width="0.7"/>
<polyline points="228.3,256.2 228.3,319.2 305.8,319.2" fill="none" stroke="#444" stroke-width="0.6"/>
<line x1="228.30" y1="319.2" x2="228.30" y2="318.0" stroke="#444" stroke-width="0.5"/>
<text x="228.3" y="324.5" font-size="6.2" text-anchor="middle" fill="#333">0</text>
<line x1="247.20" y1="319.2" x2="247.20" y2="318.0" stroke="#444" stroke-width="0.5"/>
<text x="247.2" y="324.5" font-size="6.2" text-anchor="middle" fill="#333">2.5</text>
<line x1="267.40" y1="319.2" x2="267.40" y2="318.0" stroke="#444" stroke-width="0.5"/>
<text x="267.4" y="324.5" font-size="6.2" text-anchor="middle" fill="#333">5</text>
<line x1="287.70" y1="319.2" x2="287.70" y2="318.0" stroke="#444" stroke-width="0.5"/>
<text x="287.7" y="324.5" font-size="6.2" text-anchor="middle" fill="#333">7.5</text>
<line x1="305.20" y1="319.2" x2="305.20" y2="318.0" stroke="#444" stroke-width="0.5"/>
<text x="305.2" y="324.5" font-size="6.2" text-anchor="middle" fill="#333">10</text>
<line x1="228.3" y1="259.4" x2="229.5" y2="259.4" stroke="#444" stroke-width="0.5"/>
<text x="227.0" y="261.5" font-size="6.2" text-anchor="end" fill="#333">1.2</text>
<line x1="228.3" y1="289.3" x2="229.5" y2="289.3" stroke="#444" stroke-width="0.5"/>
<text x="227.0" y="291.40000000000003" font-size="6.2" text-anchor="end" fill="#333">0.6</text>
<line x1="228.3" y1="319.2" x2="229.5" y2="319.2" stroke="#444" stroke-width="0.5"/>
<text x="227.0" y="321.3" font-size="6.2" text-anchor="end" fill="#333">0</text>
<text x="228.70000000000002" y="257.7" font-size="5.0" fill="#333"><tspan font-size="3.6">×</tspan>10<tspan dy="-2.3" font-size="4.8">-4</tspan></text>
<text x="268.7" y="333.3" font-size="7.0" text-anchor="middle" >DBS amplitude (mA)</text>
<text transform="translate(217.2,297.2) rotate(-90)" font-size="7.0" text-anchor="middle" ><tspan font-family='Liberation Serif' font-style='italic' font-size='10'>β + γ</tspan> power</text>
<polygon points="317.80,270.14 318.50,272.46 319.20,271.50 319.90,270.51 320.60,275.03 321.30,274.88 322.00,276.07 322.70,274.02 323.40,274.84 324.10,275.61 324.80,273.22 325.50,274.27 326.20,274.53 326.90,274.16 327.60,273.32 328.30,273.36 329.00,275.66 329.70,275.10 330.40,274.55 331.10,278.63 331.80,276.14 332.50,277.47 333.20,278.13 333.90,275.63 334.60,274.50 335.30,276.79 336.00,278.78 336.70,279.49 337.40,278.48 338.10,277.22 338.80,280.60 339.50,278.09 340.20,278.75 340.90,279.18 341.60,276.15 342.30,276.07 343.00,274.04 343.70,276.78 344.40,275.79 345.10,274.18 345.80,275.77 346.50,274.37 347.20,275.55 347.90,277.05 348.60,275.54 349.30,273.37 350.00,275.04 350.70,276.58 351.40,273.67 352.10,274.40 352.80,274.62 353.50,276.57 354.20,275.01 354.90,275.40 355.60,274.87 356.30,273.52 357.00,275.54 357.70,276.96 358.40,274.74 359.10,277.63 359.80,279.14 360.50,276.01 361.20,277.20 361.90,277.69 362.60,276.20 363.30,278.03 364.00,277.52 364.70,277.14 365.40,275.33 366.10,274.95 366.80,276.40 367.50,273.22 368.20,275.19 368.90,274.36 369.60,272.53 370.30,274.07 371.00,273.27 371.70,273.16 372.40,273.15 373.10,273.40 373.80,273.97 374.50,273.26 375.20,273.92 375.90,273.34 376.60,272.74 377.30,273.00 378.00,271.76 378.70,272.52 379.40,273.18 380.10,273.00 380.80,270.96 381.50,270.21 382.20,273.09 382.90,270.10 383.60,271.67 384.30,272.12 385.00,273.01 385.70,270.53 386.40,270.81 387.10,268.62 387.80,272.13 388.50,269.79 389.20,269.06 389.90,269.79 390.60,266.51 391.30,269.59 392.00,268.51 392.70,266.88 393.40,267.54 394.10,267.69 394.80,266.69 395.50,265.38 395.50,284.63 394.80,287.44 394.10,286.09 393.40,285.27 392.70,287.41 392.00,289.12 391.30,286.02 390.60,287.91 389.90,287.63 389.20,289.42 388.50,290.67 387.80,289.89 387.10,288.97 386.40,290.84 385.70,289.05 385.00,289.61 384.30,290.44 383.60,289.82 382.90,292.86 382.20,292.18 381.50,292.98 380.80,292.53 380.10,289.55 379.40,289.83 378.70,292.30 378.00,290.28 377.30,290.95 376.60,294.74 375.90,292.94 375.20,290.46 374.50,296.00 373.80,292.51 373.10,290.62 372.40,294.40 371.70,293.83 371.00,292.19 370.30,293.81 369.60,294.67 368.90,293.14 368.20,294.05 367.50,292.60 366.80,295.27 366.10,295.28 365.40,295.08 364.70,294.58 364.00,295.58 363.30,295.69 362.60,295.02 361.90,297.42 361.20,298.76 360.50,296.49 359.80,295.35 359.10,296.43 358.40,296.88 357.70,297.58 357.00,295.81 356.30,296.93 355.60,297.51 354.90,298.90 354.20,299.67 353.50,297.74 352.80,295.56 352.10,297.14 351.40,296.24 350.70,296.44 350.00,299.05 349.30,296.37 348.60,297.83 347.90,299.11 347.20,299.37 346.50,299.13 345.80,299.50 345.10,299.87 344.40,299.87 343.70,299.61 343.00,298.51 342.30,300.67 341.60,298.77 340.90,300.39 340.20,303.40 339.50,301.12 338.80,302.07 338.10,304.63 337.40,301.07 336.70,300.61 336.00,299.47 335.30,299.66 334.60,300.91 333.90,300.99 333.20,300.38 332.50,300.44 331.80,299.70 331.10,300.52 330.40,297.12 329.70,297.22 329.00,296.24 328.30,297.29 327.60,298.27 326.90,296.60 326.20,295.18 325.50,295.18 324.80,296.06 324.10,295.43 323.40,292.42 322.70,292.34 322.00,292.53 321.30,292.70 320.60,290.99 319.90,290.44 319.20,287.33 318.50,285.18 317.80,284.27" fill="#e0e0e0"/>
<line x1="319.47" y1="270.97" x2="319.47" y2="276.24" stroke="#d2d2d2" stroke-width="0.6"/>
<line x1="320.69" y1="279.97" x2="320.69" y2="289.53" stroke="#d2d2d2" stroke-width="0.6"/>
<line x1="322.17" y1="276.02" x2="322.17" y2="283.07" stroke="#d2d2d2" stroke-width="0.6"/>
<line x1="324.27" y1="284.45" x2="324.27" y2="297.93" stroke="#d2d2d2" stroke-width="0.6"/>
<line x1="328.23" y1="286.11" x2="328.23" y2="295.88" stroke="#d2d2d2" stroke-width="0.6"/>
<line x1="330.81" y1="274.41" x2="330.81" y2="287.81" stroke="#d2d2d2" stroke-width="0.6"/>
<line x1="332.28" y1="288.81" x2="332.28" y2="298.86" stroke="#d2d2d2" stroke-width="0.6"/>
<line x1="335.29" y1="290.09" x2="335.29" y2="300.57" stroke="#d2d2d2" stroke-width="0.6"/>
<line x1="336.10" y1="277.98" x2="336.10" y2="290.36" stroke="#d2d2d2" stroke-width="0.6"/>
<line x1="336.91" y1="278.78" x2="336.91" y2="290.61" stroke="#d2d2d2" stroke-width="0.6"/>
<line x1="338.93" y1="291.16" x2="338.93" y2="302.25" stroke="#d2d2d2" stroke-width="0.6"/>
<line x1="342.63" y1="289.95" x2="342.63" y2="299.34" stroke="#d2d2d2" stroke-width="0.6"/>
<line x1="343.51" y1="289.64" x2="343.51" y2="300.48" stroke="#d2d2d2" stroke-width="0.6"/>
<line x1="344.65" y1="274.53" x2="344.65" y2="289.25" stroke="#d2d2d2" stroke-width="0.6"/>
<line x1="346.17" y1="276.53" x2="346.17" y2="288.76" stroke="#d2d2d2" stroke-width="0.6"/>
<line x1="351.68" y1="275.55" x2="351.68" y2="288.42" stroke="#d2d2d2" stroke-width="0.6"/>
<line x1="354.90" y1="274.08" x2="354.90" y2="288.67" stroke="#d2d2d2" stroke-width="0.6"/>
<line x1="356.29" y1="288.35" x2="356.29" y2="297.08" stroke="#d2d2d2" stroke-width="0.6"/>
<line x1="358.23" y1="287.30" x2="358.23" y2="299.28" stroke="#d2d2d2" stroke-width="0.6"/>
<line x1="360.26" y1="276.81" x2="360.26" y2="286.82" stroke="#d2d2d2" stroke-width="0.6"/>
<line x1="361.85" y1="286.50" x2="361.85" y2="298.54" stroke="#d2d2d2" stroke-width="0.6"/>
<line x1="363.06" y1="273.82" x2="363.06" y2="286.50" stroke="#d2d2d2" stroke-width="0.6"/>
<line x1="364.59" y1="276.50" x2="364.59" y2="286.50" stroke="#d2d2d2" stroke-width="0.6"/>
<line x1="365.99" y1="272.81" x2="365.99" y2="286.21" stroke="#d2d2d2" stroke-width="0.6"/>
<line x1="369.15" y1="284.63" x2="369.15" y2="293.03" stroke="#d2d2d2" stroke-width="0.6"/>
<line x1="369.79" y1="274.02" x2="369.79" y2="284.60" stroke="#d2d2d2" stroke-width="0.6"/>
<line x1="371.06" y1="273.81" x2="371.06" y2="284.60" stroke="#d2d2d2" stroke-width="0.6"/>
<line x1="377.50" y1="283.46" x2="377.50" y2="294.02" stroke="#d2d2d2" stroke-width="0.6"/>
<line x1="379.02" y1="271.08" x2="379.02" y2="283.10" stroke="#d2d2d2" stroke-width="0.6"/>
<line x1="381.09" y1="282.60" x2="381.09" y2="289.99" stroke="#d2d2d2" stroke-width="0.6"/>
<line x1="383.03" y1="282.09" x2="383.03" y2="293.59" stroke="#d2d2d2" stroke-width="0.6"/>
<line x1="384.09" y1="269.34" x2="384.09" y2="281.81" stroke="#d2d2d2" stroke-width="0.6"/>
<line x1="389.17" y1="270.73" x2="389.17" y2="279.36" stroke="#d2d2d2" stroke-width="0.6"/>
<line x1="391.79" y1="278.05" x2="391.79" y2="285.93" stroke="#d2d2d2" stroke-width="0.6"/>
<line x1="392.71" y1="277.56" x2="392.71" y2="285.49" stroke="#d2d2d2" stroke-width="0.6"/>
<line x1="393.46" y1="266.69" x2="393.46" y2="277.14" stroke="#d2d2d2" stroke-width="0.6"/>
<polygon points="317.80,273.57 318.50,273.71 319.20,273.44 319.90,274.05 320.60,277.37 321.30,278.34 322.00,279.52 322.70,278.72 323.40,279.36 324.10,279.98 324.80,278.96 325.50,279.59 326.20,279.84 326.90,279.76 327.60,279.51 328.30,279.76 329.00,281.14 329.70,281.09 330.40,281.04 331.10,283.32 331.80,282.31 332.50,283.21 333.20,283.75 333.90,282.62 334.60,282.18 335.30,283.44 336.00,284.56 336.70,285.02 337.40,284.62 338.10,284.10 338.80,285.90 339.50,284.53 340.20,284.75 340.90,284.85 341.60,283.23 342.30,283.06 343.00,281.93 343.70,283.18 344.40,282.56 345.10,281.64 345.80,282.33 346.50,281.52 347.20,281.99 347.90,282.68 348.60,281.88 349.30,280.75 350.00,281.54 350.70,282.36 351.40,281.00 352.10,281.47 352.80,281.68 353.50,282.67 354.20,281.87 354.90,282.03 355.60,281.75 356.30,280.93 357.00,281.72 357.70,282.21 358.40,281.00 359.10,282.36 359.80,283.03 360.50,281.39 361.20,281.90 361.90,282.09 362.60,281.35 363.30,282.26 364.00,282.01 364.70,281.82 365.40,280.92 366.10,280.55 366.80,281.10 367.50,279.34 368.20,280.15 368.90,279.55 369.60,278.57 370.30,279.33 371.00,278.94 371.70,278.88 372.40,278.88 373.10,278.99 373.80,279.18 374.50,278.74 375.20,278.98 375.90,278.60 376.60,278.21 377.30,278.25 378.00,277.55 378.70,277.85 379.40,278.09 380.10,277.92 380.80,276.82 381.50,276.35 382.20,277.70 382.90,276.11 383.60,276.80 384.30,276.94 385.00,277.23 385.70,275.82 386.40,275.78 387.10,274.51 387.80,276.09 388.50,274.75 389.20,274.20 389.90,274.39 390.60,272.58 391.30,273.95 392.00,273.23 392.70,272.22 393.40,272.36 394.10,272.23 394.80,271.54 395.50,270.69 395.50,280.32 394.80,281.91 394.10,281.44 393.40,281.22 392.70,282.49 392.00,283.54 391.30,282.16 390.60,283.28 389.90,283.32 389.20,284.39 388.50,285.19 387.80,284.97 387.10,284.68 386.40,285.80 385.70,285.08 385.00,285.53 384.30,286.09 383.60,285.88 382.90,287.49 382.20,287.24 381.50,287.73 380.80,287.60 380.10,286.20 379.40,286.42 378.70,287.74 378.00,286.81 377.30,287.23 376.60,289.21 375.90,288.40 375.20,287.25 374.50,290.11 373.80,288.45 373.10,287.60 372.40,289.50 371.70,289.22 371.00,288.40 370.30,289.21 369.60,289.63 368.90,288.95 368.20,289.57 367.50,289.03 366.80,290.53 366.10,290.72 365.40,290.79 364.70,290.54 364.00,291.04 363.30,291.09 362.60,290.76 361.90,291.96 361.20,292.68 360.50,291.63 359.80,291.14 359.10,291.76 358.40,292.07 357.70,292.52 357.00,291.86 356.30,292.64 355.60,293.07 354.90,293.79 354.20,294.20 353.50,293.25 352.80,292.15 352.10,292.84 351.40,292.29 350.70,292.29 350.00,293.54 349.30,292.25 348.60,293.03 347.90,293.71 347.20,293.90 346.50,293.90 345.80,294.19 345.10,294.49 344.40,294.60 343.70,294.59 343.00,294.17 342.30,295.36 341.60,294.53 340.90,295.46 340.20,297.08 339.50,296.05 338.80,296.64 338.10,297.81 337.40,295.92 336.70,295.58 336.00,294.90 335.30,294.88 334.60,295.38 333.90,295.30 333.20,294.87 332.50,294.70 331.80,294.09 331.10,294.26 330.40,292.33 329.70,292.15 329.00,291.43 328.30,291.72 327.60,291.98 326.90,290.99 326.20,290.16 325.50,290.05 324.80,290.38 324.10,289.88 323.40,288.15 322.70,287.88 322.00,287.75 321.30,287.25 320.60,285.34 319.90,284.02 319.20,281.36 318.50,280.08 317.80,280.64" fill="#c6c6c6" fill-opacity="0.8"/>
<polyline points="317.80,275.21 318.18,275.05 318.56,275.26 318.94,273.52 319.32,274.07 319.70,274.60 320.08,278.90 320.46,278.79 320.84,279.30 321.22,279.98 321.60,279.06 321.98,282.87 322.36,279.26 322.74,283.18 323.12,285.56 323.50,283.25 323.88,283.81 324.26,285.59 324.64,284.18 325.02,284.78 325.40,285.85 325.78,287.08 326.16,282.71 326.54,286.47 326.92,286.98 327.30,284.72 327.68,285.46 328.06,285.36 328.44,292.48 328.82,284.97 329.20,286.54 329.58,287.94 329.96,289.10 330.34,286.09 330.72,288.63 331.10,288.87 331.48,288.32 331.86,289.64 332.24,290.49 332.62,289.11 333.00,288.83 333.38,290.75 333.76,289.83 334.14,290.31 334.52,292.61 334.90,290.54 335.28,290.06 335.66,288.42 336.04,290.91 336.42,291.02 336.80,294.69 337.18,291.53 337.56,291.87 337.94,291.33 338.32,291.32 338.70,292.05 339.08,290.23 339.46,289.71 339.84,289.57 340.22,290.96 340.60,288.24 340.98,289.90 341.36,290.19 341.74,290.75 342.12,288.76 342.50,290.15 342.88,286.03 343.26,289.06 343.64,292.84 344.02,289.29 344.40,287.87 344.78,288.81 345.16,287.92 345.54,291.66 345.92,288.60 346.30,287.92 346.68,286.67 347.06,288.54 347.44,288.97 347.82,288.45 348.20,286.46 348.58,286.87 348.96,286.75 349.34,292.36 349.72,286.98 350.10,287.97 350.48,290.63 350.86,285.68 351.24,288.01 351.62,288.44 352.00,286.50 352.38,290.14 352.76,288.43 353.14,289.38 353.52,289.64 353.90,290.77 354.28,287.88 354.66,287.89 355.04,283.79 355.42,286.97 355.80,291.19 356.18,284.99 356.56,285.85 356.94,288.97 357.32,290.22 357.70,286.19 358.08,287.34 358.46,285.38 358.84,284.43 359.22,289.60 359.60,285.39 359.98,285.30 360.36,286.88 360.74,287.31 361.12,286.38 361.50,288.36 361.88,285.66 362.26,286.09 362.64,287.79 363.02,289.68 363.40,289.38 363.78,283.79 364.16,286.75 364.54,284.69 364.92,288.61 365.30,286.44 365.68,293.72 366.06,286.31 366.44,283.31 366.82,287.41 367.20,285.90 367.58,284.71 367.96,285.50 368.34,288.47 368.72,281.16 369.10,282.22 369.48,284.69 369.86,285.28 370.24,285.25 370.62,289.02 371.00,284.44 371.38,278.15 371.76,286.90 372.14,284.13 372.52,284.73 372.90,284.38 373.28,287.31 373.66,284.54 374.04,279.44 374.42,283.39 374.80,285.01 375.18,284.95 375.56,283.07 375.94,282.43 376.32,282.85 376.70,283.94 377.08,284.38 377.46,283.93 377.84,279.65 378.22,283.75 378.60,282.56 378.98,283.49 379.36,283.56 379.74,284.20 380.12,278.56 380.50,283.24 380.88,279.96 381.26,282.86 381.64,283.57 382.02,282.95 382.40,281.57 382.78,282.97 383.16,281.13 383.54,284.44 383.92,283.38 384.30,281.84 384.68,280.76 385.06,285.10 385.44,281.07 385.82,280.05 386.20,281.65 386.58,280.88 386.96,281.75 387.34,280.11 387.72,282.85 388.10,282.40 388.48,274.77 388.86,279.95 389.24,280.45 389.62,281.37 390.00,279.95 390.38,279.03 390.76,279.04 391.14,276.76 391.52,278.53 391.90,276.66 392.28,278.20 392.66,277.19 393.04,276.73 393.42,278.82 393.80,277.86 394.18,279.49 394.56,274.21 394.94,279.59 395.32,272.72" fill="none" stroke="#1a1a1a" stroke-width="0.7"/>
<polyline points="318,256.4 318,318.5 395.5,318.5" fill="none" stroke="#444" stroke-width="0.6"/>
<line x1="318.00" y1="318.5" x2="318.00" y2="317.3" stroke="#444" stroke-width="0.5"/>
<text x="318" y="324.5" font-size="6.2" text-anchor="middle" fill="#333">0</text>
<line x1="336.60" y1="318.5" x2="336.60" y2="317.3" stroke="#444" stroke-width="0.5"/>
<text x="336.6" y="324.5" font-size="6.2" text-anchor="middle" fill="#333">2.5</text>
<line x1="357.00" y1="318.5" x2="357.00" y2="317.3" stroke="#444" stroke-width="0.5"/>
<text x="357" y="324.5" font-size="6.2" text-anchor="middle" fill="#333">5</text>
<line x1="377.30" y1="318.5" x2="377.30" y2="317.3" stroke="#444" stroke-width="0.5"/>
<text x="377.3" y="324.5" font-size="6.2" text-anchor="middle" fill="#333">7.5</text>
<line x1="394.70" y1="318.5" x2="394.70" y2="317.3" stroke="#444" stroke-width="0.5"/>
<text x="394.7" y="324.5" font-size="6.2" text-anchor="middle" fill="#333">10</text>
<line x1="318" y1="259.1" x2="319.2" y2="259.1" stroke="#444" stroke-width="0.5"/>
<text x="316.7" y="261.20000000000005" font-size="6.2" text-anchor="end" fill="#333">9.5</text>
<line x1="318" y1="288.9" x2="319.2" y2="288.9" stroke="#444" stroke-width="0.5"/>
<text x="316.7" y="291.0" font-size="6.2" text-anchor="end" fill="#333">8.5</text>
<line x1="318" y1="318.2" x2="319.2" y2="318.2" stroke="#444" stroke-width="0.5"/>
<text x="316.7" y="320.3" font-size="6.2" text-anchor="end" fill="#333">7.5</text>
<text x="318.4" y="257.0" font-size="5.0" fill="#333"><tspan font-size="3.6">×</tspan>10<tspan dy="-2.3" font-size="4.8">-5</tspan></text>
<text x="361.8" y="333.3" font-size="7.0" text-anchor="middle" >DBS amplitude (mA)</text>
</svg>
</body></html>
